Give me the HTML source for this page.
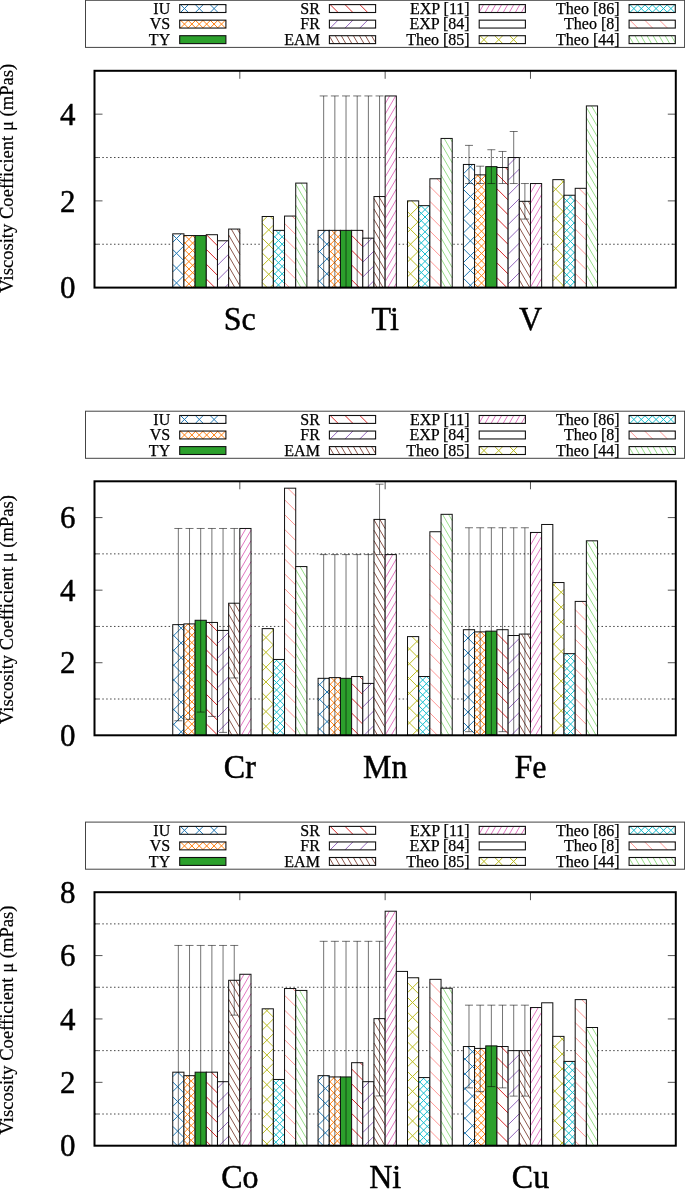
<!DOCTYPE html>
<html><head><meta charset="utf-8"><title>Viscosity Coefficient</title><style>
html,body{margin:0;padding:0;background:#fff;}
body{width:685px;height:1189px;overflow:hidden;}
svg{display:block;}
text{font-family:"Liberation Serif", "DejaVu Serif", serif;fill:#000;}
.lg{font-size:16px;text-anchor:end;stroke:#000;stroke-width:0.25px;}
.xl{font-size:32px;text-anchor:middle;stroke:#000;stroke-width:0.45px;}
.yl{font-size:31px;text-anchor:end;stroke:#000;stroke-width:0.45px;}
.yt{font-size:18.6px;text-anchor:middle;stroke:#000;stroke-width:0.2px;}
.grid{stroke:#444;stroke-width:1;stroke-dasharray:1.5 2.4;}
.bar{fill:none;stroke:#111;stroke-width:1;}
.sw{fill:none;stroke:#111;stroke-width:1.1;}
.h{fill:none;stroke-width:1;}
.eb{stroke:#000;stroke-opacity:0.55;stroke-width:1;fill:none;}
.tk{stroke:#555;stroke-width:1;}
.frame{fill:none;stroke:#000;stroke-width:2;}
</style></head><body>
<svg width="685" height="1189" viewBox="0 0 685 1189">
<defs></defs>
<rect width="685" height="1189" fill="#fff"/>
<line x1="94.5" y1="244.24" x2="675.8" y2="244.24" class="grid"/>
<line x1="94.5" y1="157.52" x2="675.8" y2="157.52" class="grid"/>
<rect x="172.75" y="233.83" width="11.18" height="53.77" fill="#fff"/><path d="M181.2 233.83L172.75 242.28M183.93 245.91L172.75 257.09M183.93 260.72L172.75 271.9M183.93 275.52L172.75 286.7M172.75 279.15L181.2 287.6M172.75 264.35L183.93 275.52M172.75 249.54L183.93 260.72M172.75 234.73L183.93 245.91" stroke="#1f77b4" class="h"/><rect x="172.75" y="233.83" width="11.18" height="53.77" class="bar"/>
<rect x="183.93" y="235.57" width="11.18" height="52.03" fill="#fff"/><path d="M185.31 235.57L183.93 236.95M192.71 235.57L183.93 244.35M195.11 240.57L183.93 251.75M195.11 247.98L183.93 259.16M195.11 255.38L183.93 266.56M195.11 262.78L183.93 273.96M195.11 270.19L183.93 281.37M195.11 277.59L185.1 287.6M195.11 284.99L192.5 287.6M183.93 286.22L185.31 287.6M183.93 278.82L192.71 287.6M183.93 271.42L195.11 282.59M183.93 264.01L195.11 275.19M183.93 256.61L195.11 267.79M183.93 249.21L195.11 260.38M183.93 241.8L195.11 252.98M185.1 235.57L195.11 245.58M192.5 235.57L195.11 238.17" stroke="#ff7f0e" class="h"/><rect x="183.93" y="235.57" width="11.18" height="52.03" class="bar"/>
<rect x="195.11" y="235.57" width="11.18" height="52.03" fill="#2ca02c"/><rect x="195.11" y="235.57" width="11.18" height="52.03" class="bar"/>
<rect x="206.29" y="234.7" width="11.18" height="52.9" fill="#fff"/><path d="M206.29 278.99L214.9 287.6M206.29 264.18L217.47 275.36M206.29 249.37L217.47 260.55M206.42 234.7L217.47 245.74" stroke="#d62728" class="h"/><rect x="206.29" y="234.7" width="11.18" height="52.9" class="bar"/>
<rect x="217.47" y="240.77" width="11.18" height="46.83" fill="#fff"/><path d="M227.23 240.77L217.47 250.54M228.65 254.17L217.47 265.35M228.65 268.97L217.47 280.15M228.65 283.78L224.83 287.6" stroke="#9467bd" class="h"/><rect x="217.47" y="240.77" width="11.18" height="46.83" class="bar"/>
<rect x="228.65" y="229.06" width="11.18" height="58.54" fill="#fff"/><path d="M228.65 287.3L228.82 287.6M228.65 276.83L234.86 287.6M228.65 266.36L239.82 285.73M228.65 255.89L239.82 275.26M228.65 245.42L239.82 264.79M228.65 234.95L239.82 254.32M231.29 229.06L239.82 243.85M237.33 229.06L239.82 233.38" stroke="#8c564b" class="h"/><rect x="228.65" y="229.06" width="11.18" height="58.54" class="bar"/>
<rect x="262.18" y="216.49" width="11.18" height="71.11" fill="#fff"/><path d="M267.23 216.49L262.18 221.54M273.36 225.17L262.18 236.35M273.36 239.98L262.18 251.15M273.36 254.78L262.18 265.96M273.36 269.59L262.18 280.77M273.36 284.4L270.16 287.6M262.18 282.55L267.23 287.6M262.18 267.74L273.36 278.92M262.18 252.94L273.36 264.11M262.18 238.13L273.36 249.31M262.18 223.32L273.36 234.5M270.16 216.49L273.36 219.69" stroke="#bcbd22" class="h"/><rect x="262.18" y="216.49" width="11.18" height="71.11" class="bar"/>
<rect x="273.36" y="230.36" width="11.18" height="57.24" fill="#fff"/><path d="M273.74 230.36L273.36 230.74M281.14 230.36L273.36 238.14M284.54 234.37L273.36 245.55M284.54 241.77L273.36 252.95M284.54 249.17L273.36 260.35M284.54 256.58L273.36 267.76M284.54 263.98L273.36 275.16M284.54 271.38L273.36 282.56M284.54 278.79L275.73 287.6M284.54 286.19L283.13 287.6M273.36 287.23L273.74 287.6M273.36 279.82L281.14 287.6M273.36 272.42L284.54 283.6M273.36 265.02L284.54 276.19M273.36 257.61L284.54 268.79M273.36 250.21L284.54 261.39M273.36 242.81L284.54 253.98M273.36 235.4L284.54 246.58M275.73 230.36L284.54 239.18M283.13 230.36L284.54 231.77" stroke="#17becf" class="h"/><rect x="273.36" y="230.36" width="11.18" height="57.24" class="bar"/>
<rect x="284.54" y="216.06" width="11.18" height="71.54" fill="#fff"/><path d="M284.54 282.63L289.51 287.6M284.54 267.83L295.72 279.01M284.54 253.02L295.72 264.2M284.54 238.21L295.72 249.39M284.54 223.41L295.72 234.59M292 216.06L295.72 219.78" stroke="#ff9896" class="h"/><rect x="284.54" y="216.06" width="11.18" height="71.54" class="bar"/>
<rect x="295.72" y="183.1" width="11.18" height="104.5" fill="#fff"/><path d="M295.72 278.41L301.02 287.6M295.72 267.94L306.9 287.31M295.72 257.47L306.9 276.84M295.72 247L306.9 266.37M295.72 236.53L306.9 255.9M295.72 226.06L306.9 245.43M295.72 215.59L306.9 234.96M295.72 205.12L306.9 224.49M295.72 194.65L306.9 214.02M295.72 184.18L306.9 203.55M301.14 183.1L306.9 193.08" stroke="#98df8a" class="h"/><rect x="295.72" y="183.1" width="11.18" height="104.5" class="bar"/>
<text transform="translate(239.82 330.2) scale(1 1.04)" class="xl">Sc</text>
<line x1="239.82" y1="70.8" x2="239.82" y2="78.8" class="tk"/>
<line x1="239.82" y1="287.6" x2="239.82" y2="279.6" class="tk"/>
<rect x="318.08" y="230.36" width="11.18" height="57.24" fill="#fff"/><path d="M325.85 230.36L318.08 238.14M329.26 241.77L318.08 252.95M329.26 256.58L318.08 267.76M329.26 271.38L318.08 282.56M329.26 286.19L327.85 287.6M318.08 279.82L325.85 287.6M318.08 265.02L329.26 276.19M318.08 250.21L329.26 261.39M318.08 235.4L329.26 246.58M327.85 230.36L329.26 231.77" stroke="#1f77b4" class="h"/><rect x="318.08" y="230.36" width="11.18" height="57.24" class="bar"/>
<path d="M323.67 95.95V287.6M319.67 95.95H327.67" class="eb"/>
<rect x="329.26" y="230.36" width="11.18" height="57.24" fill="#fff"/><path d="M329.63 230.36L329.26 230.74M337.03 230.36L329.26 238.14M340.43 234.37L329.26 245.55M340.43 241.77L329.26 252.95M340.43 249.17L329.26 260.35M340.43 256.58L329.26 267.76M340.43 263.98L329.26 275.16M340.43 271.38L329.26 282.56M340.43 278.79L331.62 287.6M340.43 286.19L339.03 287.6M329.26 287.23L329.63 287.6M329.26 279.82L337.03 287.6M329.26 272.42L340.43 283.6M329.26 265.02L340.43 276.19M329.26 257.61L340.43 268.79M329.26 250.21L340.43 261.39M329.26 242.81L340.43 253.98M329.26 235.4L340.43 246.58M331.62 230.36L340.43 239.18M339.03 230.36L340.43 231.77" stroke="#ff7f0e" class="h"/><rect x="329.26" y="230.36" width="11.18" height="57.24" class="bar"/>
<path d="M334.85 95.95V287.6M330.85 95.95H338.85" class="eb"/>
<rect x="340.43" y="230.36" width="11.18" height="57.24" fill="#2ca02c"/><rect x="340.43" y="230.36" width="11.18" height="57.24" class="bar"/>
<path d="M346.02 95.95V287.6M342.02 95.95H350.02" class="eb"/>
<rect x="351.61" y="230.36" width="11.18" height="57.24" fill="#fff"/><path d="M351.61 279.82L359.39 287.6M351.61 265.02L362.79 276.19M351.61 250.21L362.79 261.39M351.61 235.4L362.79 246.58M361.38 230.36L362.79 231.77" stroke="#d62728" class="h"/><rect x="351.61" y="230.36" width="11.18" height="57.24" class="bar"/>
<path d="M357.2 95.95V287.6M353.2 95.95H361.2" class="eb"/>
<rect x="362.79" y="238.17" width="11.18" height="49.43" fill="#fff"/><path d="M372.07 238.17L362.79 247.45M373.97 251.07L362.79 262.25M373.97 265.88L362.79 277.06M373.97 280.69L367.06 287.6" stroke="#9467bd" class="h"/><rect x="362.79" y="238.17" width="11.18" height="49.43" class="bar"/>
<path d="M368.38 95.95V287.6M364.38 95.95H372.38" class="eb"/>
<rect x="373.97" y="196.54" width="11.18" height="91.06" fill="#fff"/><path d="M373.97 282.25L377.06 287.6M373.97 271.78L383.1 287.6M373.97 261.31L385.15 280.67M373.97 250.84L385.15 270.2M373.97 240.37L385.15 259.73M373.97 229.9L385.15 249.26M373.97 219.43L385.15 238.79M373.97 208.96L385.15 228.32M373.97 198.49L385.15 217.85M378.89 196.54L385.15 207.38M384.94 196.54L385.15 196.91" stroke="#8c564b" class="h"/><rect x="373.97" y="196.54" width="11.18" height="91.06" class="bar"/>
<path d="M379.56 95.95V287.6M375.56 95.95H383.56" class="eb"/>
<rect x="385.15" y="95.95" width="11.18" height="191.65" fill="#fff"/><path d="M389.63 95.95L385.15 103.71M395.67 95.95L385.15 114.18M396.33 105.29L385.15 124.65M396.33 115.76L385.15 135.12M396.33 126.23L385.15 145.59M396.33 136.7L385.15 156.06M396.33 147.17L385.15 166.53M396.33 157.64L385.15 177M396.33 168.11L385.15 187.47M396.33 178.58L385.15 197.94M396.33 189.05L385.15 208.41M396.33 199.52L385.15 218.88M396.33 209.99L385.15 229.35M396.33 220.46L385.15 239.82M396.33 230.93L385.15 250.29M396.33 241.4L385.15 260.76M396.33 251.87L385.15 271.23M396.33 262.34L385.15 281.7M396.33 272.81L387.79 287.6M396.33 283.28L393.83 287.6" stroke="#e377c2" class="h"/><rect x="385.15" y="95.95" width="11.18" height="191.65" class="bar"/>
<rect x="407.51" y="200.88" width="11.18" height="86.72" fill="#fff"/><path d="M409.44 200.88L407.51 202.81M418.69 206.44L407.51 217.62M418.69 221.24L407.51 232.42M418.69 236.05L407.51 247.23M418.69 250.86L407.51 262.04M418.69 265.66L407.51 276.84M418.69 280.47L411.56 287.6M407.51 285.67L409.44 287.6M407.51 270.86L418.69 282.04M407.51 256.06L418.69 267.24M407.51 241.25L418.69 252.43M407.51 226.44L418.69 237.62M407.51 211.64L418.69 222.82M411.56 200.88L418.69 208.01" stroke="#bcbd22" class="h"/><rect x="407.51" y="200.88" width="11.18" height="86.72" class="bar"/>
<rect x="418.69" y="205.65" width="11.18" height="81.95" fill="#fff"/><path d="M421.57 205.65L418.69 208.54M428.98 205.65L418.69 215.94M429.87 212.16L418.69 223.34M429.87 219.57L418.69 230.75M429.87 226.97L418.69 238.15M429.87 234.37L418.69 245.55M429.87 241.78L418.69 252.96M429.87 249.18L418.69 260.36M429.87 256.59L418.69 267.76M429.87 263.99L418.69 275.17M429.87 271.39L418.69 282.57M429.87 278.8L421.06 287.6M429.87 286.2L428.46 287.6M418.69 284.71L421.57 287.6M418.69 277.31L428.98 287.6M418.69 269.91L429.87 281.08M418.69 262.5L429.87 273.68M418.69 255.1L429.87 266.28M418.69 247.7L429.87 258.87M418.69 240.29L429.87 251.47M418.69 232.89L429.87 244.07M418.69 225.49L429.87 236.66M418.69 218.08L429.87 229.26M418.69 210.68L429.87 221.86M421.06 205.65L429.87 214.45M428.46 205.65L429.87 207.05" stroke="#17becf" class="h"/><rect x="418.69" y="205.65" width="11.18" height="81.95" class="bar"/>
<rect x="429.87" y="178.77" width="11.18" height="108.83" fill="#fff"/><path d="M429.87 275.34L441.04 286.52M429.87 260.54L441.04 271.71M429.87 245.73L441.04 256.91M429.87 230.92L441.04 242.1M429.87 216.11L441.04 227.29M429.87 201.31L441.04 212.49M429.87 186.5L441.04 197.68M436.94 178.77L441.04 182.87" stroke="#ff9896" class="h"/><rect x="429.87" y="178.77" width="11.18" height="108.83" class="bar"/>
<rect x="441.04" y="138.44" width="11.18" height="149.16" fill="#fff"/><path d="M441.04 279.63L445.65 287.6M441.04 269.16L451.69 287.6M441.04 258.69L452.22 278.05M441.04 248.22L452.22 267.58M441.04 237.75L452.22 257.11M441.04 227.28L452.22 246.64M441.04 216.81L452.22 236.17M441.04 206.34L452.22 225.7M441.04 195.87L452.22 215.23M441.04 185.4L452.22 204.76M441.04 174.93L452.22 194.29M441.04 164.46L452.22 183.82M441.04 153.99L452.22 173.35M441.04 143.52L452.22 162.88M444.16 138.44L452.22 152.41M450.2 138.44L452.22 141.94" stroke="#98df8a" class="h"/><rect x="441.04" y="138.44" width="11.18" height="149.16" class="bar"/>
<text transform="translate(385.15 330.2) scale(1 1.04)" class="xl">Ti</text>
<line x1="385.15" y1="70.8" x2="385.15" y2="78.8" class="tk"/>
<line x1="385.15" y1="287.6" x2="385.15" y2="279.6" class="tk"/>
<rect x="463.4" y="164.46" width="11.18" height="123.14" fill="#fff"/><path d="M472.74 164.46L463.4 173.8M474.58 177.43L463.4 188.61M474.58 192.23L463.4 203.41M474.58 207.04L463.4 218.22M474.58 221.85L463.4 233.03M474.58 236.65L463.4 247.83M474.58 251.46L463.4 262.64M474.58 266.27L463.4 277.45M474.58 281.07L468.06 287.6M463.4 278.26L472.74 287.6M463.4 263.45L474.58 274.63M463.4 248.64L474.58 259.82M463.4 233.84L474.58 245.02M463.4 219.03L474.58 230.21M463.4 204.22L474.58 215.4M463.4 189.42L474.58 200.6M463.4 174.61L474.58 185.79M468.06 164.46L474.58 170.98" stroke="#1f77b4" class="h"/><rect x="463.4" y="164.46" width="11.18" height="123.14" class="bar"/>
<path d="M468.99 145.38V183.54M464.99 145.38H472.99M464.99 183.54H472.99" class="eb"/>
<rect x="474.58" y="174.86" width="11.18" height="112.74" fill="#fff"/><path d="M478.64 174.86L474.58 178.92M485.76 175.15L474.58 186.33M485.76 182.55L474.58 193.73M485.76 189.96L474.58 201.13M485.76 197.36L474.58 208.54M485.76 204.76L474.58 215.94M485.76 212.17L474.58 223.34M485.76 219.57L474.58 230.75M485.76 226.97L474.58 238.15M485.76 234.38L474.58 245.55M485.76 241.78L474.58 252.96M485.76 249.18L474.58 260.36M485.76 256.59L474.58 267.77M485.76 263.99L474.58 275.17M485.76 271.39L474.58 282.57M485.76 278.8L476.96 287.6M485.76 286.2L484.36 287.6M474.58 283.54L478.64 287.6M474.58 276.14L485.76 287.32M474.58 268.73L485.76 279.91M474.58 261.33L485.76 272.51M474.58 253.93L485.76 265.1M474.58 246.52L485.76 257.7M474.58 239.12L485.76 250.3M474.58 231.72L485.76 242.89M474.58 224.31L485.76 235.49M474.58 216.91L485.76 228.09M474.58 209.51L485.76 220.68M474.58 202.1L485.76 213.28M474.58 194.7L485.76 205.88M474.58 187.3L485.76 198.47M474.58 179.89L485.76 191.07M476.96 174.86L485.76 183.67M484.36 174.86L485.76 176.26" stroke="#ff7f0e" class="h"/><rect x="474.58" y="174.86" width="11.18" height="112.74" class="bar"/>
<path d="M480.17 166.19V183.54M476.17 166.19H484.17M476.17 183.54H484.17" class="eb"/>
<rect x="485.76" y="166.63" width="11.18" height="120.97" fill="#2ca02c"/><rect x="485.76" y="166.63" width="11.18" height="120.97" class="bar"/>
<path d="M491.35 149.72V183.54M487.35 149.72H495.35M487.35 183.54H495.35" class="eb"/>
<rect x="496.94" y="167.49" width="11.18" height="120.11" fill="#fff"/><path d="M496.94 277.64L506.9 287.6M496.94 262.83L508.12 274.01M496.94 248.03L508.12 259.2M496.94 233.22L508.12 244.4M496.94 218.41L508.12 229.59M496.94 203.6L508.12 214.78M496.94 188.8L508.12 199.98M496.94 173.99L508.12 185.17M505.25 167.49L508.12 170.36" stroke="#d62728" class="h"/><rect x="496.94" y="167.49" width="11.18" height="120.11" class="bar"/>
<path d="M502.53 151.45V183.54M498.53 151.45H506.53M498.53 183.54H506.53" class="eb"/>
<rect x="508.12" y="157.52" width="11.18" height="130.08" fill="#fff"/><path d="M516.04 157.52L508.12 165.44M519.3 169.07L508.12 180.25M519.3 183.88L508.12 195.06M519.3 198.69L508.12 209.86M519.3 213.49L508.12 224.67M519.3 228.3L508.12 239.48M519.3 243.11L508.12 254.28M519.3 257.91L508.12 269.09M519.3 272.72L508.12 283.9M519.3 287.53L519.22 287.6" stroke="#9467bd" class="h"/><rect x="508.12" y="157.52" width="11.18" height="130.08" class="bar"/>
<path d="M513.71 131.5V183.54M509.71 131.5H517.71M509.71 183.54H517.71" class="eb"/>
<rect x="519.3" y="201.31" width="11.18" height="86.29" fill="#fff"/><path d="M519.3 279.9L523.74 287.6M519.3 269.43L529.78 287.6M519.3 258.96L530.47 278.33M519.3 248.49L530.47 267.86M519.3 238.02L530.47 257.39M519.3 227.55L530.47 246.92M519.3 217.08L530.47 236.45M519.3 206.61L530.47 225.98M522.28 201.31L530.47 215.51M528.33 201.31L530.47 205.04" stroke="#8c564b" class="h"/><rect x="519.3" y="201.31" width="11.18" height="86.29" class="bar"/>
<path d="M524.89 183.54V219.09M520.89 183.54H528.89M520.89 219.09H528.89" class="eb"/>
<rect x="530.47" y="183.54" width="11.18" height="104.06" fill="#fff"/><path d="M535.9 183.54L530.47 192.94M541.65 184.04L530.47 203.41M541.65 194.51L530.47 213.88M541.65 204.98L530.47 224.35M541.65 215.45L530.47 234.82M541.65 225.92L530.47 245.29M541.65 236.39L530.47 255.76M541.65 246.86L530.47 266.23M541.65 257.33L530.47 276.7M541.65 267.8L530.47 287.17M541.65 278.27L536.27 287.6" stroke="#e377c2" class="h"/><rect x="530.47" y="183.54" width="11.18" height="104.06" class="bar"/>
<rect x="552.83" y="179.63" width="11.18" height="107.97" fill="#fff"/><path d="M564.01 180.89L552.83 192.07M564.01 195.7L552.83 206.87M564.01 210.5L552.83 221.68M564.01 225.31L552.83 236.49M564.01 240.12L552.83 251.3M564.01 254.92L552.83 266.1M564.01 269.73L552.83 280.91M564.01 284.54L560.95 287.6M552.83 275.17L564.01 286.34M552.83 260.36L564.01 271.54M552.83 245.55L564.01 256.73M552.83 230.75L564.01 241.92M552.83 215.94L564.01 227.12M552.83 201.13L564.01 212.31M552.83 186.32L564.01 197.5M560.95 179.63L564.01 182.7" stroke="#bcbd22" class="h"/><rect x="552.83" y="179.63" width="11.18" height="107.97" class="bar"/>
<rect x="564.01" y="195.24" width="11.18" height="92.36" fill="#fff"/><path d="M564.8 195.24L564.01 196.04M572.21 195.24L564.01 203.44M575.19 199.66L564.01 210.84M575.19 207.07L564.01 218.25M575.19 214.47L564.01 225.65M575.19 221.87L564.01 233.05M575.19 229.28L564.01 240.46M575.19 236.68L564.01 247.86M575.19 244.08L564.01 255.26M575.19 251.49L564.01 262.67M575.19 258.89L564.01 270.07M575.19 266.29L564.01 277.47M575.19 273.7L564.01 284.88M575.19 281.1L568.69 287.6M564.01 286.81L564.8 287.6M564.01 279.4L572.21 287.6M564.01 272L575.19 283.18M564.01 264.6L575.19 275.78M564.01 257.19L575.19 268.37M564.01 249.79L575.19 260.97M564.01 242.39L575.19 253.57M564.01 234.98L575.19 246.16M564.01 227.58L575.19 238.76M564.01 220.18L575.19 231.36M564.01 212.77L575.19 223.95M564.01 205.37L575.19 216.55M564.01 197.97L575.19 209.15M568.69 195.24L575.19 201.74" stroke="#17becf" class="h"/><rect x="564.01" y="195.24" width="11.18" height="92.36" class="bar"/>
<rect x="575.19" y="188.31" width="11.18" height="99.29" fill="#fff"/><path d="M575.19 273.41L586.37 284.58M575.19 258.6L586.37 269.78M575.19 243.79L586.37 254.97M575.19 228.98L586.37 240.16M575.19 214.18L586.37 225.36M575.19 199.37L586.37 210.55M578.93 188.31L586.37 195.74" stroke="#ff9896" class="h"/><rect x="575.19" y="188.31" width="11.18" height="99.29" class="bar"/>
<rect x="586.37" y="105.92" width="11.18" height="181.68" fill="#fff"/><path d="M586.37 285.34L587.67 287.6M586.37 274.87L593.72 287.6M586.37 264.4L597.55 283.76M586.37 253.93L597.55 273.29M586.37 243.46L597.55 262.82M586.37 232.99L597.55 252.35M586.37 222.52L597.55 241.88M586.37 212.05L597.55 231.41M586.37 201.58L597.55 220.94M586.37 191.11L597.55 210.47M586.37 180.64L597.55 200M586.37 170.17L597.55 189.53M586.37 159.7L597.55 179.06M586.37 149.23L597.55 168.59M586.37 138.76L597.55 158.12M586.37 128.29L597.55 147.65M586.37 117.82L597.55 137.18M586.37 107.35L597.55 126.71M591.59 105.92L597.55 116.24" stroke="#98df8a" class="h"/><rect x="586.37" y="105.92" width="11.18" height="181.68" class="bar"/>
<text transform="translate(530.47 330.2) scale(1 1.04)" class="xl">V</text>
<line x1="530.47" y1="70.8" x2="530.47" y2="78.8" class="tk"/>
<line x1="530.47" y1="287.6" x2="530.47" y2="279.6" class="tk"/>
<text transform="translate(75.6 298.3) scale(1 1.04)" class="yl">0</text>
<line x1="94.5" y1="244.24" x2="98.5" y2="244.24" class="tk"/>
<line x1="675.8" y1="244.24" x2="671.8" y2="244.24" class="tk"/>
<line x1="94.5" y1="200.88" x2="102.5" y2="200.88" class="tk"/>
<line x1="675.8" y1="200.88" x2="667.8" y2="200.88" class="tk"/>
<text transform="translate(75.6 211.58) scale(1 1.04)" class="yl">2</text>
<line x1="94.5" y1="157.52" x2="98.5" y2="157.52" class="tk"/>
<line x1="675.8" y1="157.52" x2="671.8" y2="157.52" class="tk"/>
<line x1="94.5" y1="114.16" x2="102.5" y2="114.16" class="tk"/>
<line x1="675.8" y1="114.16" x2="667.8" y2="114.16" class="tk"/>
<text transform="translate(75.6 124.86) scale(1 1.04)" class="yl">4</text>
<rect x="94.5" y="70.8" width="581.3" height="216.8" class="frame"/>
<text transform="translate(13.2 178.3) rotate(-90)" class="yt">Viscosity Coefficient μ (mPas)</text>
<rect x="85.5" y="0.3" width="599.1" height="47.1" fill="#fff" stroke="#444" stroke-width="1"/>
<rect x="179.7" y="4.6" width="46.2" height="7.9" fill="#fff"/><path d="M188.41 4.6L180.51 12.5M203.22 4.6L195.32 12.5M218.03 4.6L210.13 12.5M225.9 11.53L224.93 12.5M180.51 4.6L188.41 12.5M195.32 4.6L203.22 12.5M210.13 4.6L218.03 12.5M224.93 4.6L225.9 5.57" stroke="#1f77b4" class="h"/><rect x="179.7" y="4.6" width="46.2" height="7.9" class="sw"/>
<text x="170.2" y="13.9" class="lg">IU</text>
<rect x="179.7" y="20.15" width="46.2" height="7.9" fill="#fff"/><path d="M181.01 20.15L179.7 21.46M188.41 20.15L180.51 28.05M195.82 20.15L187.92 28.05M203.22 20.15L195.32 28.05M210.62 20.15L202.72 28.05M218.03 20.15L210.13 28.05M225.43 20.15L217.53 28.05M225.9 27.08L224.93 28.05M179.7 26.74L181.01 28.05M180.51 20.15L188.41 28.05M187.92 20.15L195.82 28.05M195.32 20.15L203.22 28.05M202.72 20.15L210.62 28.05M210.13 20.15L218.03 28.05M217.53 20.15L225.43 28.05M224.93 20.15L225.9 21.12" stroke="#ff7f0e" class="h"/><rect x="179.7" y="20.15" width="46.2" height="7.9" class="sw"/>
<text x="170.2" y="29.45" class="lg">VS</text>
<rect x="179.7" y="35.7" width="46.2" height="7.9" fill="#2ca02c"/><rect x="179.7" y="35.7" width="46.2" height="7.9" class="sw"/>
<text x="170.2" y="45" class="lg">TY</text>
<rect x="329.4" y="4.6" width="46.2" height="7.9" fill="#fff"/><path d="M330.21 4.6L338.11 12.5M345.02 4.6L352.92 12.5M359.83 4.6L367.73 12.5M374.63 4.6L375.6 5.57" stroke="#d62728" class="h"/><rect x="329.4" y="4.6" width="46.2" height="7.9" class="sw"/>
<text x="319.9" y="13.9" class="lg">SR</text>
<rect x="329.4" y="20.15" width="46.2" height="7.9" fill="#fff"/><path d="M338.11 20.15L330.21 28.05M352.92 20.15L345.02 28.05M367.73 20.15L359.83 28.05M375.6 27.08L374.63 28.05" stroke="#9467bd" class="h"/><rect x="329.4" y="20.15" width="46.2" height="7.9" class="sw"/>
<text x="319.9" y="29.45" class="lg">FR</text>
<rect x="329.4" y="35.7" width="46.2" height="7.9" fill="#fff"/><path d="M329.4 36.04L333.76 43.6M335.25 35.7L339.81 43.6M341.29 35.7L345.85 43.6M347.34 35.7L351.9 43.6M353.38 35.7L357.94 43.6M359.43 35.7L363.99 43.6M365.47 35.7L370.03 43.6M371.52 35.7L375.6 42.77" stroke="#8c564b" class="h"/><rect x="329.4" y="35.7" width="46.2" height="7.9" class="sw"/>
<text x="319.9" y="45" class="lg">EAM</text>
<rect x="479.2" y="4.6" width="46.2" height="7.9" fill="#fff"/><path d="M483.56 4.6L479.2 12.16M489.61 4.6L485.05 12.5M495.65 4.6L491.09 12.5M501.7 4.6L497.14 12.5M507.74 4.6L503.18 12.5M513.79 4.6L509.23 12.5M519.83 4.6L515.27 12.5M525.4 5.43L521.32 12.5" stroke="#e377c2" class="h"/><rect x="479.2" y="4.6" width="46.2" height="7.9" class="sw"/>
<text x="469.7" y="13.9" class="lg">EXP [11]</text>
<rect x="479.2" y="20.15" width="46.2" height="7.9" fill="#fff"/><rect x="479.2" y="20.15" width="46.2" height="7.9" class="sw"/>
<text x="469.7" y="29.45" class="lg">EXP [84]</text>
<rect x="479.2" y="35.7" width="46.2" height="7.9" fill="#fff"/><path d="M487.91 35.7L480.01 43.6M502.72 35.7L494.82 43.6M517.53 35.7L509.63 43.6M525.4 42.63L524.43 43.6M480.01 35.7L487.91 43.6M494.82 35.7L502.72 43.6M509.63 35.7L517.53 43.6M524.43 35.7L525.4 36.67" stroke="#bcbd22" class="h"/><rect x="479.2" y="35.7" width="46.2" height="7.9" class="sw"/>
<text x="469.7" y="45" class="lg">Theo [85]</text>
<rect x="629.1" y="4.6" width="46.2" height="7.9" fill="#fff"/><path d="M630.41 4.6L629.1 5.91M637.81 4.6L629.91 12.5M645.22 4.6L637.32 12.5M652.62 4.6L644.72 12.5M660.02 4.6L652.12 12.5M667.43 4.6L659.53 12.5M674.83 4.6L666.93 12.5M675.3 11.53L674.33 12.5M629.1 11.19L630.41 12.5M629.91 4.6L637.81 12.5M637.32 4.6L645.22 12.5M644.72 4.6L652.62 12.5M652.12 4.6L660.02 12.5M659.53 4.6L667.43 12.5M666.93 4.6L674.83 12.5M674.33 4.6L675.3 5.57" stroke="#17becf" class="h"/><rect x="629.1" y="4.6" width="46.2" height="7.9" class="sw"/>
<text x="619.6" y="13.9" class="lg">Theo [86]</text>
<rect x="629.1" y="20.15" width="46.2" height="7.9" fill="#fff"/><path d="M629.91 20.15L637.81 28.05M644.72 20.15L652.62 28.05M659.53 20.15L667.43 28.05M674.33 20.15L675.3 21.12" stroke="#ff9896" class="h"/><rect x="629.1" y="20.15" width="46.2" height="7.9" class="sw"/>
<text x="619.6" y="29.45" class="lg">Theo [8]</text>
<rect x="629.1" y="35.7" width="46.2" height="7.9" fill="#fff"/><path d="M629.1 36.04L633.46 43.6M634.95 35.7L639.51 43.6M640.99 35.7L645.55 43.6M647.04 35.7L651.6 43.6M653.08 35.7L657.64 43.6M659.13 35.7L663.69 43.6M665.17 35.7L669.73 43.6M671.22 35.7L675.3 42.77" stroke="#98df8a" class="h"/><rect x="629.1" y="35.7" width="46.2" height="7.9" class="sw"/>
<text x="619.6" y="45" class="lg">Theo [44]</text>
<line x1="94.5" y1="699.01" x2="675.8" y2="699.01" class="grid"/>
<line x1="94.5" y1="626.44" x2="675.8" y2="626.44" class="grid"/>
<line x1="94.5" y1="553.87" x2="675.8" y2="553.87" class="grid"/>
<rect x="172.75" y="624.63" width="11.18" height="110.67" fill="#fff"/><path d="M183.93 625.33L172.75 636.51M183.93 640.14L172.75 651.32M183.93 654.95L172.75 666.13M183.93 669.75L172.75 680.93M183.93 684.56L172.75 695.74M183.93 699.37L172.75 710.55M183.93 714.17L172.75 725.35M183.93 728.98L177.61 735.3M172.75 723.42L183.93 734.59M172.75 708.61L183.93 719.79M172.75 693.8L183.93 704.98M172.75 679L183.93 690.17M172.75 664.19L183.93 675.37M172.75 649.38L183.93 660.56M172.75 634.58L183.93 645.75M177.61 624.63L183.93 630.95" stroke="#1f77b4" class="h"/><rect x="172.75" y="624.63" width="11.18" height="110.67" class="bar"/>
<path d="M178.34 528.47V720.79M174.34 528.47H182.34M174.34 720.79H182.34" class="eb"/>
<rect x="183.93" y="623.9" width="11.18" height="111.4" fill="#fff"/><path d="M188.26 623.9L183.93 628.24M195.11 624.46L183.93 635.64M195.11 631.86L183.93 643.04M195.11 639.27L183.93 650.45M195.11 646.67L183.93 657.85M195.11 654.07L183.93 665.25M195.11 661.48L183.93 672.66M195.11 668.88L183.93 680.06M195.11 676.28L183.93 687.46M195.11 683.69L183.93 694.87M195.11 691.09L183.93 702.27M195.11 698.49L183.93 709.67M195.11 705.9L183.93 717.08M195.11 713.3L183.93 724.48M195.11 720.7L183.93 731.88M195.11 728.11L187.92 735.3M183.93 730.97L188.26 735.3M183.93 723.56L195.11 734.74M183.93 716.16L195.11 727.34M183.93 708.76L195.11 719.94M183.93 701.35L195.11 712.53M183.93 693.95L195.11 705.13M183.93 686.55L195.11 697.73M183.93 679.14L195.11 690.32M183.93 671.74L195.11 682.92M183.93 664.34L195.11 675.52M183.93 656.93L195.11 668.11M183.93 649.53L195.11 660.71M183.93 642.13L195.11 653.31M183.93 634.72L195.11 645.9M183.93 627.32L195.11 638.5M187.92 623.9L195.11 631.09" stroke="#ff7f0e" class="h"/><rect x="183.93" y="623.9" width="11.18" height="111.4" class="bar"/>
<path d="M189.52 528.47V719.33M185.52 528.47H193.52M185.52 719.33H193.52" class="eb"/>
<rect x="195.11" y="620.27" width="11.18" height="115.03" fill="#2ca02c"/><rect x="195.11" y="620.27" width="11.18" height="115.03" class="bar"/>
<path d="M200.7 528.47V712.08M196.7 528.47H204.7M196.7 712.08H204.7" class="eb"/>
<rect x="206.29" y="622.45" width="11.18" height="112.85" fill="#fff"/><path d="M206.29 723.86L217.47 735.04M206.29 709.05L217.47 720.23M206.29 694.25L217.47 705.42M206.29 679.44L217.47 690.62M206.29 664.63L217.47 675.81M206.29 649.83L217.47 661M206.29 635.02L217.47 646.2M208.53 622.45L217.47 631.39" stroke="#d62728" class="h"/><rect x="206.29" y="622.45" width="11.18" height="112.85" class="bar"/>
<path d="M211.88 528.47V716.43M207.88 528.47H215.88M207.88 716.43H215.88" class="eb"/>
<rect x="217.47" y="630.43" width="11.18" height="104.87" fill="#fff"/><path d="M228.65 632.32L217.47 643.5M228.65 647.13L217.47 658.31M228.65 661.93L217.47 673.11M228.65 676.74L217.47 687.92M228.65 691.55L217.47 702.73M228.65 706.35L217.47 717.53M228.65 721.16L217.47 732.34" stroke="#9467bd" class="h"/><rect x="217.47" y="630.43" width="11.18" height="104.87" class="bar"/>
<path d="M223.06 528.47V732.4M219.06 528.47H227.06M219.06 732.4H227.06" class="eb"/>
<rect x="228.65" y="603.22" width="11.18" height="132.08" fill="#fff"/><path d="M228.65 729.31L232.1 735.3M228.65 718.84L238.15 735.3M228.65 708.37L239.82 727.73M228.65 697.9L239.82 717.26M228.65 687.43L239.82 706.79M228.65 676.96L239.82 696.32M228.65 666.49L239.82 685.85M228.65 656.02L239.82 675.38M228.65 645.55L239.82 664.91M228.65 635.08L239.82 654.44M228.65 624.61L239.82 643.97M228.65 614.14L239.82 633.5M228.65 603.67L239.82 623.03M234.43 603.22L239.82 612.56" stroke="#8c564b" class="h"/><rect x="228.65" y="603.22" width="11.18" height="132.08" class="bar"/>
<path d="M234.24 528.47V677.97M230.24 528.47H238.24M230.24 677.97H238.24" class="eb"/>
<rect x="239.82" y="528.47" width="11.18" height="206.83" fill="#fff"/><path d="M239.94 528.47L239.82 528.67M245.98 528.47L239.82 539.14M251 530.24L239.82 549.61M251 540.71L239.82 560.08M251 551.18L239.82 570.55M251 561.65L239.82 581.02M251 572.12L239.82 591.49M251 582.59L239.82 601.96M251 593.06L239.82 612.43M251 603.53L239.82 622.9M251 614L239.82 633.37M251 624.47L239.82 643.84M251 634.94L239.82 654.31M251 645.41L239.82 664.78M251 655.88L239.82 675.25M251 666.35L239.82 685.72M251 676.82L239.82 696.19M251 687.29L239.82 706.66M251 697.76L239.82 717.13M251 708.23L239.82 727.6M251 718.7L241.42 735.3M251 729.17L247.47 735.3" stroke="#e377c2" class="h"/><rect x="239.82" y="528.47" width="11.18" height="206.83" class="bar"/>
<rect x="262.18" y="628.62" width="11.18" height="106.68" fill="#fff"/><path d="M273.36 630.14L262.18 641.32M273.36 644.94L262.18 656.12M273.36 659.75L262.18 670.93M273.36 674.56L262.18 685.74M273.36 689.36L262.18 700.54M273.36 704.17L262.18 715.35M273.36 718.98L262.18 730.16M273.36 733.78L271.85 735.3M262.18 722.6L273.36 733.78M262.18 707.8L273.36 718.98M262.18 692.99L273.36 704.17M262.18 678.18L273.36 689.36M262.18 663.38L273.36 674.56M262.18 648.57L273.36 659.75M262.18 633.76L273.36 644.94M271.85 628.62L273.36 630.14" stroke="#bcbd22" class="h"/><rect x="262.18" y="628.62" width="11.18" height="106.68" class="bar"/>
<rect x="273.36" y="659.46" width="11.18" height="75.84" fill="#fff"/><path d="M277.47 659.46L273.36 663.57M284.54 659.8L273.36 670.98M284.54 667.2L273.36 678.38M284.54 674.6L273.36 685.78M284.54 682.01L273.36 693.19M284.54 689.41L273.36 700.59M284.54 696.81L273.36 707.99M284.54 704.22L273.36 715.4M284.54 711.62L273.36 722.8M284.54 719.03L273.36 730.2M284.54 726.43L275.67 735.3M284.54 733.83L283.07 735.3M273.36 731.19L277.47 735.3M273.36 723.79L284.54 734.97M273.36 716.38L284.54 727.56M273.36 708.98L284.54 720.16M273.36 701.58L284.54 712.75M273.36 694.17L284.54 705.35M273.36 686.77L284.54 697.95M273.36 679.37L284.54 690.54M273.36 671.96L284.54 683.14M273.36 664.56L284.54 675.74M275.67 659.46L284.54 668.33M283.07 659.46L284.54 660.93" stroke="#17becf" class="h"/><rect x="273.36" y="659.46" width="11.18" height="75.84" class="bar"/>
<rect x="284.54" y="488.19" width="11.18" height="247.11" fill="#fff"/><path d="M284.54 721.84L295.72 733.02M284.54 707.03L295.72 718.21M284.54 692.23L295.72 703.4M284.54 677.42L295.72 688.6M284.54 662.61L295.72 673.79M284.54 647.81L295.72 658.98M284.54 633L295.72 644.18M284.54 618.19L295.72 629.37M284.54 603.38L295.72 614.56M284.54 588.58L295.72 599.76M284.54 573.77L295.72 584.95M284.54 558.96L295.72 570.14M284.54 544.16L295.72 555.34M284.54 529.35L295.72 540.53M284.54 514.54L295.72 525.72M284.54 499.74L295.72 510.92M287.8 488.19L295.72 496.11" stroke="#ff9896" class="h"/><rect x="284.54" y="488.19" width="11.18" height="247.11" class="bar"/>
<rect x="295.72" y="566.57" width="11.18" height="168.73" fill="#fff"/><path d="M295.72 726.59L300.75 735.3M295.72 716.12L306.79 735.3M295.72 705.65L306.9 725.02M295.72 695.18L306.9 714.55M295.72 684.71L306.9 704.08M295.72 674.24L306.9 693.61M295.72 663.77L306.9 683.14M295.72 653.3L306.9 672.67M295.72 642.83L306.9 662.2M295.72 632.36L306.9 651.73M295.72 621.89L306.9 641.26M295.72 611.42L306.9 630.79M295.72 600.95L306.9 620.32M295.72 590.48L306.9 609.85M295.72 580.01L306.9 599.38M295.72 569.54L306.9 588.91M300.05 566.57L306.9 578.44M306.09 566.57L306.9 567.97" stroke="#98df8a" class="h"/><rect x="295.72" y="566.57" width="11.18" height="168.73" class="bar"/>
<text transform="translate(239.82 777.9) scale(1 1.04)" class="xl">Cr</text>
<line x1="239.82" y1="481.3" x2="239.82" y2="489.3" class="tk"/>
<line x1="239.82" y1="735.3" x2="239.82" y2="727.3" class="tk"/>
<rect x="318.08" y="678.33" width="11.18" height="56.97" fill="#fff"/><path d="M325.91 678.33L318.08 686.16M329.26 689.79L318.08 700.97M329.26 704.6L318.08 715.77M329.26 719.4L318.08 730.58M329.26 734.21L328.17 735.3M318.08 727.47L325.91 735.3M318.08 712.66L329.26 723.84M318.08 697.86L329.26 709.04M318.08 683.05L329.26 694.23M328.17 678.33L329.26 679.42" stroke="#1f77b4" class="h"/><rect x="318.08" y="678.33" width="11.18" height="56.97" class="bar"/>
<path d="M323.67 554.6V735.3M319.67 554.6H327.67" class="eb"/>
<rect x="329.26" y="677.61" width="11.18" height="57.69" fill="#fff"/><path d="M329.54 677.61L329.26 677.89M336.94 677.61L329.26 685.29M340.43 681.52L329.26 692.7M340.43 688.92L329.26 700.1M340.43 696.33L329.26 707.5M340.43 703.73L329.26 714.91M340.43 711.13L329.26 722.31M340.43 718.54L329.26 729.71M340.43 725.94L331.07 735.3M340.43 733.34L338.48 735.3M329.26 735.01L329.54 735.3M329.26 727.61L336.94 735.3M329.26 720.21L340.43 731.39M329.26 712.8L340.43 723.98M329.26 705.4L340.43 716.58M329.26 698L340.43 709.18M329.26 690.59L340.43 701.77M329.26 683.19L340.43 694.37M331.07 677.61L340.43 686.97M338.48 677.61L340.43 679.56" stroke="#ff7f0e" class="h"/><rect x="329.26" y="677.61" width="11.18" height="57.69" class="bar"/>
<path d="M334.85 554.6V735.3M330.85 554.6H338.85" class="eb"/>
<rect x="340.43" y="678.33" width="11.18" height="56.97" fill="#2ca02c"/><rect x="340.43" y="678.33" width="11.18" height="56.97" class="bar"/>
<path d="M346.02 554.6V735.3M342.02 554.6H350.02" class="eb"/>
<rect x="351.61" y="676.52" width="11.18" height="58.78" fill="#fff"/><path d="M351.61 727.82L359.09 735.3M351.61 713.02L362.79 724.2M351.61 698.21L362.79 709.39M351.61 683.4L362.79 694.58M359.53 676.52L362.79 679.77" stroke="#d62728" class="h"/><rect x="351.61" y="676.52" width="11.18" height="58.78" class="bar"/>
<path d="M357.2 554.6V735.3M353.2 554.6H361.2" class="eb"/>
<rect x="362.79" y="683.41" width="11.18" height="51.89" fill="#fff"/><path d="M371.6 683.41L362.79 692.22M373.97 695.85L362.79 707.03M373.97 710.65L362.79 721.83M373.97 725.46L364.13 735.3" stroke="#9467bd" class="h"/><rect x="362.79" y="683.41" width="11.18" height="51.89" class="bar"/>
<path d="M368.38 554.6V735.3M364.38 554.6H372.38" class="eb"/>
<rect x="373.97" y="519.4" width="11.18" height="215.9" fill="#fff"/><path d="M373.97 729.16L377.52 735.3M373.97 718.69L383.56 735.3M373.97 708.22L385.15 727.58M373.97 697.75L385.15 717.11M373.97 687.28L385.15 706.64M373.97 676.81L385.15 696.17M373.97 666.34L385.15 685.7M373.97 655.87L385.15 675.23M373.97 645.4L385.15 664.76M373.97 634.93L385.15 654.29M373.97 624.46L385.15 643.82M373.97 613.99L385.15 633.35M373.97 603.52L385.15 622.88M373.97 593.05L385.15 612.41M373.97 582.58L385.15 601.94M373.97 572.11L385.15 591.47M373.97 561.64L385.15 581M373.97 551.17L385.15 570.53M373.97 540.7L385.15 560.06M373.97 530.23L385.15 549.59M373.97 519.76L385.15 539.12M379.81 519.4L385.15 528.65" stroke="#8c564b" class="h"/><rect x="373.97" y="519.4" width="11.18" height="215.9" class="bar"/>
<path d="M379.56 484.2V554.6M375.56 484.2H383.56M375.56 554.6H383.56" class="eb"/>
<rect x="385.15" y="554.6" width="11.18" height="180.7" fill="#fff"/><path d="M386.73 554.6L385.15 557.34M392.78 554.6L385.15 567.81M396.33 558.92L385.15 578.28M396.33 569.39L385.15 588.75M396.33 579.86L385.15 599.22M396.33 590.33L385.15 609.69M396.33 600.8L385.15 620.16M396.33 611.27L385.15 630.63M396.33 621.74L385.15 641.1M396.33 632.21L385.15 651.57M396.33 642.68L385.15 662.04M396.33 653.15L385.15 672.51M396.33 663.62L385.15 682.98M396.33 674.09L385.15 693.45M396.33 684.56L385.15 703.92M396.33 695.03L385.15 714.39M396.33 705.5L385.15 724.86M396.33 715.97L385.17 735.3M396.33 726.44L391.21 735.3" stroke="#e377c2" class="h"/><rect x="385.15" y="554.6" width="11.18" height="180.7" class="bar"/>
<rect x="407.51" y="636.6" width="11.18" height="98.7" fill="#fff"/><path d="M418.69 639.74L407.51 650.92M418.69 654.55L407.51 665.73M418.69 669.35L407.51 680.53M418.69 684.16L407.51 695.34M418.69 698.97L407.51 710.15M418.69 713.77L407.51 724.95M418.69 728.58L411.97 735.3M407.51 720.98L418.69 732.16M407.51 706.18L418.69 717.36M407.51 691.37L418.69 702.55M407.51 676.56L418.69 687.74M407.51 661.76L418.69 672.94M407.51 646.95L418.69 658.13M411.97 636.6L418.69 643.32" stroke="#bcbd22" class="h"/><rect x="407.51" y="636.6" width="11.18" height="98.7" class="bar"/>
<rect x="418.69" y="676.52" width="11.18" height="58.78" fill="#fff"/><path d="M418.76 676.52L418.69 676.59M426.16 676.52L418.69 683.99M429.87 680.22L418.69 691.4M429.87 687.62L418.69 698.8M429.87 695.03L418.69 706.2M429.87 702.43L418.69 713.61M429.87 709.83L418.69 721.01M429.87 717.24L418.69 728.41M429.87 724.64L419.2 735.3M429.87 732.04L426.61 735.3M418.69 735.23L418.76 735.3M418.69 727.82L426.16 735.3M418.69 720.42L429.87 731.6M418.69 713.02L429.87 724.2M418.69 705.61L429.87 716.79M418.69 698.21L429.87 709.39M418.69 690.81L429.87 701.98M418.69 683.4L429.87 694.58M419.2 676.52L429.87 687.18M426.61 676.52L429.87 679.77" stroke="#17becf" class="h"/><rect x="418.69" y="676.52" width="11.18" height="58.78" class="bar"/>
<rect x="429.87" y="531.74" width="11.18" height="203.56" fill="#fff"/><path d="M429.87 727.67L437.5 735.3M429.87 712.86L441.04 724.04M429.87 698.05L441.04 709.23M429.87 683.25L441.04 694.42M429.87 668.44L441.04 679.62M429.87 653.63L441.04 664.81M429.87 638.83L441.04 650M429.87 624.02L441.04 635.2M429.87 609.21L441.04 620.39M429.87 594.4L441.04 605.58M429.87 579.6L441.04 590.78M429.87 564.79L441.04 575.97M429.87 549.98L441.04 561.16M429.87 535.18L441.04 546.36" stroke="#ff9896" class="h"/><rect x="429.87" y="531.74" width="11.18" height="203.56" class="bar"/>
<rect x="441.04" y="514.32" width="11.18" height="220.98" fill="#fff"/><path d="M441.04 731.69L443.13 735.3M441.04 721.22L449.17 735.3M441.04 710.75L452.22 730.11M441.04 700.28L452.22 719.64M441.04 689.81L452.22 709.17M441.04 679.34L452.22 698.7M441.04 668.87L452.22 688.23M441.04 658.4L452.22 677.76M441.04 647.93L452.22 667.29M441.04 637.46L452.22 656.82M441.04 626.99L452.22 646.35M441.04 616.52L452.22 635.88M441.04 606.05L452.22 625.41M441.04 595.58L452.22 614.94M441.04 585.11L452.22 604.47M441.04 574.64L452.22 594M441.04 564.17L452.22 583.53M441.04 553.7L452.22 573.06M441.04 543.23L452.22 562.59M441.04 532.76L452.22 552.12M441.04 522.29L452.22 541.65M442.49 514.32L452.22 531.18M448.53 514.32L452.22 520.71" stroke="#98df8a" class="h"/><rect x="441.04" y="514.32" width="11.18" height="220.98" class="bar"/>
<text transform="translate(385.15 777.9) scale(1 1.04)" class="xl">Mn</text>
<line x1="385.15" y1="481.3" x2="385.15" y2="489.3" class="tk"/>
<line x1="385.15" y1="735.3" x2="385.15" y2="727.3" class="tk"/>
<rect x="463.4" y="629.71" width="11.18" height="105.59" fill="#fff"/><path d="M474.58 631.45L463.4 642.63M474.58 646.25L463.4 657.43M474.58 661.06L463.4 672.24M474.58 675.87L463.4 687.05M474.58 690.67L463.4 701.85M474.58 705.48L463.4 716.66M474.58 720.29L463.4 731.47M474.58 735.09L474.38 735.3M463.4 722.38L474.58 733.56M463.4 707.58L474.58 718.75M463.4 692.77L474.58 703.95M463.4 677.96L474.58 689.14M463.4 663.16L474.58 674.33M463.4 648.35L474.58 659.53M463.4 633.54L474.58 644.72M474.38 629.71L474.58 629.91" stroke="#1f77b4" class="h"/><rect x="463.4" y="629.71" width="11.18" height="105.59" class="bar"/>
<path d="M468.99 527.75V731.67M464.99 527.75H472.99M464.99 731.67H472.99" class="eb"/>
<rect x="474.58" y="631.89" width="11.18" height="103.41" fill="#fff"/><path d="M480.54 631.89L474.58 637.84M485.76 634.07L474.58 645.24M485.76 641.47L474.58 652.65M485.76 648.87L474.58 660.05M485.76 656.28L474.58 667.46M485.76 663.68L474.58 674.86M485.76 671.08L474.58 682.26M485.76 678.49L474.58 689.67M485.76 685.89L474.58 697.07M485.76 693.29L474.58 704.47M485.76 700.7L474.58 711.88M485.76 708.1L474.58 719.28M485.76 715.5L474.58 726.68M485.76 722.91L474.58 734.09M485.76 730.31L480.77 735.3M474.58 729.34L480.54 735.3M474.58 721.94L485.76 733.12M474.58 714.54L485.76 725.72M474.58 707.13L485.76 718.31M474.58 699.73L485.76 710.91M474.58 692.33L485.76 703.51M474.58 684.92L485.76 696.1M474.58 677.52L485.76 688.7M474.58 670.12L485.76 681.3M474.58 662.71L485.76 673.89M474.58 655.31L485.76 666.49M474.58 647.91L485.76 659.09M474.58 640.5L485.76 651.68M474.58 633.1L485.76 644.28M480.77 631.89L485.76 636.88" stroke="#ff7f0e" class="h"/><rect x="474.58" y="631.89" width="11.18" height="103.41" class="bar"/>
<path d="M480.17 527.75V735.3M476.17 527.75H484.17" class="eb"/>
<rect x="485.76" y="631.16" width="11.18" height="104.14" fill="#2ca02c"/><rect x="485.76" y="631.16" width="11.18" height="104.14" class="bar"/>
<path d="M491.35 527.75V734.57M487.35 527.75H495.35M487.35 734.57H495.35" class="eb"/>
<rect x="496.94" y="629.71" width="11.18" height="105.59" fill="#fff"/><path d="M496.94 722.38L508.12 733.56M496.94 707.58L508.12 718.75M496.94 692.77L508.12 703.95M496.94 677.96L508.12 689.14M496.94 663.16L508.12 674.33M496.94 648.35L508.12 659.53M496.94 633.54L508.12 644.72M507.91 629.71L508.12 629.91" stroke="#d62728" class="h"/><rect x="496.94" y="629.71" width="11.18" height="105.59" class="bar"/>
<path d="M502.53 527.75V731.67M498.53 527.75H506.53M498.53 731.67H506.53" class="eb"/>
<rect x="508.12" y="635.51" width="11.18" height="99.79" fill="#fff"/><path d="M519.3 638.43L508.12 649.61M519.3 653.24L508.12 664.42M519.3 668.04L508.12 679.22M519.3 682.85L508.12 694.03M519.3 697.66L508.12 708.84M519.3 712.46L508.12 723.64M519.3 727.27L511.27 735.3" stroke="#9467bd" class="h"/><rect x="508.12" y="635.51" width="11.18" height="99.79" class="bar"/>
<path d="M513.71 527.75V735.3M509.71 527.75H517.71" class="eb"/>
<rect x="519.3" y="634.06" width="11.18" height="101.24" fill="#fff"/><path d="M519.3 734.97L519.49 735.3M519.3 724.5L525.53 735.3M519.3 714.03L530.47 733.4M519.3 703.56L530.47 722.93M519.3 693.09L530.47 712.46M519.3 682.62L530.47 701.99M519.3 672.15L530.47 691.52M519.3 661.68L530.47 681.05M519.3 651.21L530.47 670.58M519.3 640.74L530.47 660.11M521.48 634.06L530.47 649.64M527.53 634.06L530.47 639.17" stroke="#8c564b" class="h"/><rect x="519.3" y="634.06" width="11.18" height="101.24" class="bar"/>
<path d="M524.89 527.75V735.3M520.89 527.75H528.89" class="eb"/>
<rect x="530.47" y="532.46" width="11.18" height="202.84" fill="#fff"/><path d="M531.74 532.46L530.47 534.65M537.78 532.46L530.47 545.12M541.65 536.23L530.47 555.59M541.65 546.7L530.47 566.06M541.65 557.17L530.47 576.53M541.65 567.64L530.47 587M541.65 578.11L530.47 597.47M541.65 588.58L530.47 607.94M541.65 599.05L530.47 618.41M541.65 609.52L530.47 628.88M541.65 619.99L530.47 639.35M541.65 630.46L530.47 649.82M541.65 640.93L530.47 660.29M541.65 651.4L530.47 670.76M541.65 661.87L530.47 681.23M541.65 672.34L530.47 691.7M541.65 682.81L530.47 702.17M541.65 693.28L530.47 712.64M541.65 703.75L530.47 723.11M541.65 714.22L530.47 733.58M541.65 724.69L535.53 735.3M541.65 735.16L541.57 735.3" stroke="#e377c2" class="h"/><rect x="530.47" y="532.46" width="11.18" height="202.84" class="bar"/>
<rect x="541.65" y="524.48" width="11.18" height="210.82" fill="#fff"/><rect x="541.65" y="524.48" width="11.18" height="210.82" class="bar"/>
<rect x="552.83" y="582.54" width="11.18" height="152.76" fill="#fff"/><path d="M556.11 582.54L552.83 585.81M564.01 589.44L552.83 600.62M564.01 604.25L552.83 615.43M564.01 619.05L552.83 630.23M564.01 633.86L552.83 645.04M564.01 648.67L552.83 659.85M564.01 663.48L552.83 674.65M564.01 678.28L552.83 689.46M564.01 693.09L552.83 704.27M564.01 707.9L552.83 719.07M564.01 722.7L552.83 733.88M552.83 732.02L556.11 735.3M552.83 717.22L564.01 728.4M552.83 702.41L564.01 713.59M552.83 687.6L564.01 698.78M552.83 672.8L564.01 683.98M552.83 657.99L564.01 669.17M552.83 643.18L564.01 654.36M552.83 628.38L564.01 639.56M552.83 613.57L564.01 624.75M552.83 598.76L564.01 609.94M552.83 583.96L564.01 595.13" stroke="#bcbd22" class="h"/><rect x="552.83" y="582.54" width="11.18" height="152.76" class="bar"/>
<rect x="564.01" y="653.66" width="11.18" height="81.64" fill="#fff"/><path d="M566.96 653.66L564.01 656.61M574.36 653.66L564.01 664.01M575.19 660.23L564.01 671.41M575.19 667.64L564.01 678.82M575.19 675.04L564.01 686.22M575.19 682.44L564.01 693.62M575.19 689.85L564.01 701.03M575.19 697.25L564.01 708.43M575.19 704.65L564.01 715.83M575.19 712.06L564.01 723.24M575.19 719.46L564.01 730.64M575.19 726.86L566.75 735.3M575.19 734.27L574.16 735.3M564.01 732.35L566.96 735.3M564.01 724.95L574.36 735.3M564.01 717.54L575.19 728.72M564.01 710.14L575.19 721.32M564.01 702.74L575.19 713.92M564.01 695.33L575.19 706.51M564.01 687.93L575.19 699.11M564.01 680.53L575.19 691.71M564.01 673.12L575.19 684.3M564.01 665.72L575.19 676.9M564.01 658.32L575.19 669.5M566.75 653.66L575.19 662.09M574.16 653.66L575.19 654.69" stroke="#17becf" class="h"/><rect x="564.01" y="653.66" width="11.18" height="81.64" class="bar"/>
<rect x="575.19" y="601.41" width="11.18" height="133.89" fill="#fff"/><path d="M575.19 728.16L582.33 735.3M575.19 713.35L586.37 724.53M575.19 698.54L586.37 709.72M575.19 683.74L586.37 694.92M575.19 668.93L586.37 680.11M575.19 654.12L586.37 665.3M575.19 639.32L586.37 650.49M575.19 624.51L586.37 635.69M575.19 609.7L586.37 620.88M581.7 601.41L586.37 606.07" stroke="#ff9896" class="h"/><rect x="575.19" y="601.41" width="11.18" height="133.89" class="bar"/>
<rect x="586.37" y="540.81" width="11.18" height="194.49" fill="#fff"/><path d="M586.37 728.96L590.03 735.3M586.37 718.49L596.08 735.3M586.37 708.02L597.55 727.38M586.37 697.55L597.55 716.91M586.37 687.08L597.55 706.44M586.37 676.61L597.55 695.97M586.37 666.14L597.55 685.5M586.37 655.67L597.55 675.03M586.37 645.2L597.55 664.56M586.37 634.73L597.55 654.09M586.37 624.26L597.55 643.62M586.37 613.79L597.55 633.15M586.37 603.32L597.55 622.68M586.37 592.85L597.55 612.21M586.37 582.38L597.55 601.74M586.37 571.91L597.55 591.27M586.37 561.44L597.55 580.8M586.37 550.97L597.55 570.33M586.55 540.81L597.55 559.86M592.59 540.81L597.55 549.39" stroke="#98df8a" class="h"/><rect x="586.37" y="540.81" width="11.18" height="194.49" class="bar"/>
<text transform="translate(530.47 777.9) scale(1 1.04)" class="xl">Fe</text>
<line x1="530.47" y1="481.3" x2="530.47" y2="489.3" class="tk"/>
<line x1="530.47" y1="735.3" x2="530.47" y2="727.3" class="tk"/>
<text transform="translate(75.6 746) scale(1 1.04)" class="yl">0</text>
<line x1="94.5" y1="699.01" x2="98.5" y2="699.01" class="tk"/>
<line x1="675.8" y1="699.01" x2="671.8" y2="699.01" class="tk"/>
<line x1="94.5" y1="662.73" x2="102.5" y2="662.73" class="tk"/>
<line x1="675.8" y1="662.73" x2="667.8" y2="662.73" class="tk"/>
<text transform="translate(75.6 673.43) scale(1 1.04)" class="yl">2</text>
<line x1="94.5" y1="626.44" x2="98.5" y2="626.44" class="tk"/>
<line x1="675.8" y1="626.44" x2="671.8" y2="626.44" class="tk"/>
<line x1="94.5" y1="590.16" x2="102.5" y2="590.16" class="tk"/>
<line x1="675.8" y1="590.16" x2="667.8" y2="590.16" class="tk"/>
<text transform="translate(75.6 600.86) scale(1 1.04)" class="yl">4</text>
<line x1="94.5" y1="553.87" x2="98.5" y2="553.87" class="tk"/>
<line x1="675.8" y1="553.87" x2="671.8" y2="553.87" class="tk"/>
<line x1="94.5" y1="517.59" x2="102.5" y2="517.59" class="tk"/>
<line x1="675.8" y1="517.59" x2="667.8" y2="517.59" class="tk"/>
<text transform="translate(75.6 528.29) scale(1 1.04)" class="yl">6</text>
<rect x="94.5" y="481.3" width="581.3" height="254" class="frame"/>
<text transform="translate(13.2 609.5) rotate(-90)" class="yt">Viscosity Coefficient μ (mPas)</text>
<rect x="85.5" y="411.2" width="599.1" height="47.1" fill="#fff" stroke="#444" stroke-width="1"/>
<rect x="179.7" y="415.5" width="46.2" height="7.9" fill="#fff"/><path d="M188.41 415.5L180.51 423.4M203.22 415.5L195.32 423.4M218.03 415.5L210.13 423.4M225.9 422.43L224.93 423.4M180.51 415.5L188.41 423.4M195.32 415.5L203.22 423.4M210.13 415.5L218.03 423.4M224.93 415.5L225.9 416.47" stroke="#1f77b4" class="h"/><rect x="179.7" y="415.5" width="46.2" height="7.9" class="sw"/>
<text x="170.2" y="424.8" class="lg">IU</text>
<rect x="179.7" y="431.05" width="46.2" height="7.9" fill="#fff"/><path d="M181.01 431.05L179.7 432.36M188.41 431.05L180.51 438.95M195.82 431.05L187.92 438.95M203.22 431.05L195.32 438.95M210.62 431.05L202.72 438.95M218.03 431.05L210.13 438.95M225.43 431.05L217.53 438.95M225.9 437.98L224.93 438.95M179.7 437.64L181.01 438.95M180.51 431.05L188.41 438.95M187.92 431.05L195.82 438.95M195.32 431.05L203.22 438.95M202.72 431.05L210.62 438.95M210.13 431.05L218.03 438.95M217.53 431.05L225.43 438.95M224.93 431.05L225.9 432.02" stroke="#ff7f0e" class="h"/><rect x="179.7" y="431.05" width="46.2" height="7.9" class="sw"/>
<text x="170.2" y="440.35" class="lg">VS</text>
<rect x="179.7" y="446.6" width="46.2" height="7.9" fill="#2ca02c"/><rect x="179.7" y="446.6" width="46.2" height="7.9" class="sw"/>
<text x="170.2" y="455.9" class="lg">TY</text>
<rect x="329.4" y="415.5" width="46.2" height="7.9" fill="#fff"/><path d="M330.21 415.5L338.11 423.4M345.02 415.5L352.92 423.4M359.83 415.5L367.73 423.4M374.63 415.5L375.6 416.47" stroke="#d62728" class="h"/><rect x="329.4" y="415.5" width="46.2" height="7.9" class="sw"/>
<text x="319.9" y="424.8" class="lg">SR</text>
<rect x="329.4" y="431.05" width="46.2" height="7.9" fill="#fff"/><path d="M338.11 431.05L330.21 438.95M352.92 431.05L345.02 438.95M367.73 431.05L359.83 438.95M375.6 437.98L374.63 438.95" stroke="#9467bd" class="h"/><rect x="329.4" y="431.05" width="46.2" height="7.9" class="sw"/>
<text x="319.9" y="440.35" class="lg">FR</text>
<rect x="329.4" y="446.6" width="46.2" height="7.9" fill="#fff"/><path d="M329.4 446.94L333.76 454.5M335.25 446.6L339.81 454.5M341.29 446.6L345.85 454.5M347.34 446.6L351.9 454.5M353.38 446.6L357.94 454.5M359.43 446.6L363.99 454.5M365.47 446.6L370.03 454.5M371.52 446.6L375.6 453.67" stroke="#8c564b" class="h"/><rect x="329.4" y="446.6" width="46.2" height="7.9" class="sw"/>
<text x="319.9" y="455.9" class="lg">EAM</text>
<rect x="479.2" y="415.5" width="46.2" height="7.9" fill="#fff"/><path d="M483.56 415.5L479.2 423.06M489.61 415.5L485.05 423.4M495.65 415.5L491.09 423.4M501.7 415.5L497.14 423.4M507.74 415.5L503.18 423.4M513.79 415.5L509.23 423.4M519.83 415.5L515.27 423.4M525.4 416.33L521.32 423.4" stroke="#e377c2" class="h"/><rect x="479.2" y="415.5" width="46.2" height="7.9" class="sw"/>
<text x="469.7" y="424.8" class="lg">EXP [11]</text>
<rect x="479.2" y="431.05" width="46.2" height="7.9" fill="#fff"/><rect x="479.2" y="431.05" width="46.2" height="7.9" class="sw"/>
<text x="469.7" y="440.35" class="lg">EXP [84]</text>
<rect x="479.2" y="446.6" width="46.2" height="7.9" fill="#fff"/><path d="M487.91 446.6L480.01 454.5M502.72 446.6L494.82 454.5M517.53 446.6L509.63 454.5M525.4 453.53L524.43 454.5M480.01 446.6L487.91 454.5M494.82 446.6L502.72 454.5M509.63 446.6L517.53 454.5M524.43 446.6L525.4 447.57" stroke="#bcbd22" class="h"/><rect x="479.2" y="446.6" width="46.2" height="7.9" class="sw"/>
<text x="469.7" y="455.9" class="lg">Theo [85]</text>
<rect x="629.1" y="415.5" width="46.2" height="7.9" fill="#fff"/><path d="M630.41 415.5L629.1 416.81M637.81 415.5L629.91 423.4M645.22 415.5L637.32 423.4M652.62 415.5L644.72 423.4M660.02 415.5L652.12 423.4M667.43 415.5L659.53 423.4M674.83 415.5L666.93 423.4M675.3 422.43L674.33 423.4M629.1 422.09L630.41 423.4M629.91 415.5L637.81 423.4M637.32 415.5L645.22 423.4M644.72 415.5L652.62 423.4M652.12 415.5L660.02 423.4M659.53 415.5L667.43 423.4M666.93 415.5L674.83 423.4M674.33 415.5L675.3 416.47" stroke="#17becf" class="h"/><rect x="629.1" y="415.5" width="46.2" height="7.9" class="sw"/>
<text x="619.6" y="424.8" class="lg">Theo [86]</text>
<rect x="629.1" y="431.05" width="46.2" height="7.9" fill="#fff"/><path d="M629.91 431.05L637.81 438.95M644.72 431.05L652.62 438.95M659.53 431.05L667.43 438.95M674.33 431.05L675.3 432.02" stroke="#ff9896" class="h"/><rect x="629.1" y="431.05" width="46.2" height="7.9" class="sw"/>
<text x="619.6" y="440.35" class="lg">Theo [8]</text>
<rect x="629.1" y="446.6" width="46.2" height="7.9" fill="#fff"/><path d="M629.1 446.94L633.46 454.5M634.95 446.6L639.51 454.5M640.99 446.6L645.55 454.5M647.04 446.6L651.6 454.5M653.08 446.6L657.64 454.5M659.13 446.6L663.69 454.5M665.17 446.6L669.73 454.5M671.22 446.6L675.3 453.67" stroke="#98df8a" class="h"/><rect x="629.1" y="446.6" width="46.2" height="7.9" class="sw"/>
<text x="619.6" y="455.9" class="lg">Theo [44]</text>
<line x1="94.5" y1="1114.01" x2="675.8" y2="1114.01" class="grid"/>
<line x1="94.5" y1="1050.64" x2="675.8" y2="1050.64" class="grid"/>
<line x1="94.5" y1="987.26" x2="675.8" y2="987.26" class="grid"/>
<line x1="94.5" y1="923.89" x2="675.8" y2="923.89" class="grid"/>
<rect x="172.75" y="1072.18" width="11.18" height="73.52" fill="#fff"/><path d="M177.33 1072.18L172.75 1076.76M183.93 1080.39L172.75 1091.57M183.93 1095.19L172.75 1106.37M183.93 1110L172.75 1121.18M183.93 1124.81L172.75 1135.99M183.93 1139.61L177.84 1145.7M172.75 1141.13L177.33 1145.7M172.75 1126.32L183.93 1137.5M172.75 1111.51L183.93 1122.69M172.75 1096.71L183.93 1107.89M172.75 1081.9L183.93 1093.08M177.84 1072.18L183.93 1078.27" stroke="#1f77b4" class="h"/><rect x="172.75" y="1072.18" width="11.18" height="73.52" class="bar"/>
<path d="M178.34 945.44V1145.7M174.34 945.44H182.34" class="eb"/>
<rect x="183.93" y="1075.67" width="11.18" height="70.03" fill="#fff"/><path d="M189.2 1075.67L183.93 1080.94M195.11 1077.16L183.93 1088.34M195.11 1084.56L183.93 1095.74M195.11 1091.97L183.93 1103.15M195.11 1099.37L183.93 1110.55M195.11 1106.77L183.93 1117.95M195.11 1114.18L183.93 1125.36M195.11 1121.58L183.93 1132.76M195.11 1128.98L183.93 1140.16M195.11 1136.39L185.8 1145.7M195.11 1143.79L193.2 1145.7M183.93 1140.43L189.2 1145.7M183.93 1133.03L195.11 1144.21M183.93 1125.63L195.11 1136.81M183.93 1118.22L195.11 1129.4M183.93 1110.82L195.11 1122M183.93 1103.42L195.11 1114.6M183.93 1096.01L195.11 1107.19M183.93 1088.61L195.11 1099.79M183.93 1081.21L195.11 1092.39M185.8 1075.67L195.11 1084.98M193.2 1075.67L195.11 1077.58" stroke="#ff7f0e" class="h"/><rect x="183.93" y="1075.67" width="11.18" height="70.03" class="bar"/>
<path d="M189.52 945.44V1145.7M185.52 945.44H193.52" class="eb"/>
<rect x="195.11" y="1072.18" width="11.18" height="73.52" fill="#2ca02c"/><rect x="195.11" y="1072.18" width="11.18" height="73.52" class="bar"/>
<path d="M200.7 945.44V1145.7M196.7 945.44H204.7" class="eb"/>
<rect x="206.29" y="1072.18" width="11.18" height="73.52" fill="#fff"/><path d="M206.29 1141.13L210.86 1145.7M206.29 1126.32L217.47 1137.5M206.29 1111.51L217.47 1122.69M206.29 1096.71L217.47 1107.89M206.29 1081.9L217.47 1093.08M211.38 1072.18L217.47 1078.27" stroke="#d62728" class="h"/><rect x="206.29" y="1072.18" width="11.18" height="73.52" class="bar"/>
<path d="M211.88 945.44V1145.7M207.88 945.44H215.88" class="eb"/>
<rect x="217.47" y="1081.69" width="11.18" height="64.01" fill="#fff"/><path d="M223.92 1081.69L217.47 1088.15M228.65 1091.77L217.47 1102.95M228.65 1106.58L217.47 1117.76M228.65 1121.39L217.47 1132.57M228.65 1136.19L219.14 1145.7" stroke="#9467bd" class="h"/><rect x="217.47" y="1081.69" width="11.18" height="64.01" class="bar"/>
<path d="M223.06 945.44V1145.7M219.06 945.44H227.06" class="eb"/>
<rect x="228.65" y="980.29" width="11.18" height="165.41" fill="#fff"/><path d="M228.65 1135.34L234.63 1145.7M228.65 1124.87L239.82 1144.23M228.65 1114.4L239.82 1133.76M228.65 1103.93L239.82 1123.29M228.65 1093.46L239.82 1112.82M228.65 1082.99L239.82 1102.35M228.65 1072.52L239.82 1091.88M228.65 1062.05L239.82 1081.41M228.65 1051.58L239.82 1070.94M228.65 1041.11L239.82 1060.47M228.65 1030.64L239.82 1050M228.65 1020.17L239.82 1039.53M228.65 1009.7L239.82 1029.06M228.65 999.23L239.82 1018.59M228.65 988.76L239.82 1008.12M229.8 980.29L239.82 997.65M235.85 980.29L239.82 987.18" stroke="#8c564b" class="h"/><rect x="228.65" y="980.29" width="11.18" height="165.41" class="bar"/>
<path d="M234.24 945.44V1015.15M230.24 945.44H238.24M230.24 1015.15H238.24" class="eb"/>
<rect x="239.82" y="974.27" width="11.18" height="171.43" fill="#fff"/><path d="M244.08 974.27L239.82 981.63M250.12 974.27L239.82 992.1M251 983.21L239.82 1002.57M251 993.68L239.82 1013.04M251 1004.15L239.82 1023.51M251 1014.62L239.82 1033.98M251 1025.09L239.82 1044.45M251 1035.56L239.82 1054.92M251 1046.03L239.82 1065.39M251 1056.5L239.82 1075.86M251 1066.97L239.82 1086.33M251 1077.44L239.82 1096.8M251 1087.91L239.82 1107.27M251 1098.38L239.82 1117.74M251 1108.85L239.82 1128.21M251 1119.32L239.82 1138.68M251 1129.79L241.82 1145.7M251 1140.26L247.86 1145.7" stroke="#e377c2" class="h"/><rect x="239.82" y="974.27" width="11.18" height="171.43" class="bar"/>
<rect x="262.18" y="1008.81" width="11.18" height="136.89" fill="#fff"/><path d="M268.71 1008.81L262.18 1015.34M273.36 1018.97L262.18 1030.15M273.36 1033.77L262.18 1044.95M273.36 1048.58L262.18 1059.76M273.36 1063.39L262.18 1074.57M273.36 1078.2L262.18 1089.37M273.36 1093L262.18 1104.18M273.36 1107.81L262.18 1118.99M273.36 1122.62L262.18 1133.79M273.36 1137.42L265.08 1145.7M262.18 1139.17L268.71 1145.7M262.18 1124.36L273.36 1135.54M262.18 1109.56L273.36 1120.74M262.18 1094.75L273.36 1105.93M262.18 1079.94L273.36 1091.12M262.18 1065.14L273.36 1076.31M262.18 1050.33L273.36 1061.51M262.18 1035.52L273.36 1046.7M262.18 1020.72L273.36 1031.89M265.08 1008.81L273.36 1017.09" stroke="#bcbd22" class="h"/><rect x="262.18" y="1008.81" width="11.18" height="136.89" class="bar"/>
<rect x="273.36" y="1079.47" width="11.18" height="66.23" fill="#fff"/><path d="M279.38 1079.47L273.36 1085.49M284.54 1081.72L273.36 1092.89M284.54 1089.12L273.36 1100.3M284.54 1096.52L273.36 1107.7M284.54 1103.93L273.36 1115.1M284.54 1111.33L273.36 1122.51M284.54 1118.73L273.36 1129.91M284.54 1126.14L273.36 1137.31M284.54 1133.54L273.36 1144.72M284.54 1140.94L279.78 1145.7M273.36 1139.68L279.38 1145.7M273.36 1132.28L284.54 1143.46M273.36 1124.88L284.54 1136.05M273.36 1117.47L284.54 1128.65M273.36 1110.07L284.54 1121.25M273.36 1102.67L284.54 1113.84M273.36 1095.26L284.54 1106.44M273.36 1087.86L284.54 1099.04M273.36 1080.45L284.54 1091.63M279.78 1079.47L284.54 1084.23" stroke="#17becf" class="h"/><rect x="273.36" y="1079.47" width="11.18" height="66.23" class="bar"/>
<rect x="284.54" y="988.53" width="11.18" height="157.17" fill="#fff"/><path d="M284.54 1143.33L286.91 1145.7M284.54 1128.52L295.72 1139.7M284.54 1113.72L295.72 1124.89M284.54 1098.91L295.72 1110.09M284.54 1084.1L295.72 1095.28M284.54 1069.29L295.72 1080.47M284.54 1054.49L295.72 1065.67M284.54 1039.68L295.72 1050.86M284.54 1024.87L295.72 1036.05M284.54 1010.07L295.72 1021.25M284.54 995.26L295.72 1006.44M292.62 988.53L295.72 991.63" stroke="#ff9896" class="h"/><rect x="284.54" y="988.53" width="11.18" height="157.17" class="bar"/>
<rect x="295.72" y="990.43" width="11.18" height="155.27" fill="#fff"/><path d="M295.72 1140.77L298.57 1145.7M295.72 1130.3L304.61 1145.7M295.72 1119.83L306.9 1139.19M295.72 1109.36L306.9 1128.72M295.72 1098.89L306.9 1118.25M295.72 1088.42L306.9 1107.78M295.72 1077.95L306.9 1097.31M295.72 1067.48L306.9 1086.84M295.72 1057.01L306.9 1076.37M295.72 1046.54L306.9 1065.9M295.72 1036.07L306.9 1055.43M295.72 1025.6L306.9 1044.96M295.72 1015.13L306.9 1034.49M295.72 1004.66L306.9 1024.02M295.72 994.19L306.9 1013.55M299.6 990.43L306.9 1003.08M305.64 990.43L306.9 992.61" stroke="#98df8a" class="h"/><rect x="295.72" y="990.43" width="11.18" height="155.27" class="bar"/>
<text transform="translate(239.82 1188.3) scale(1 1.04)" class="xl">Co</text>
<line x1="239.82" y1="892.2" x2="239.82" y2="900.2" class="tk"/>
<line x1="239.82" y1="1145.7" x2="239.82" y2="1137.7" class="tk"/>
<rect x="318.08" y="1075.67" width="11.18" height="70.03" fill="#fff"/><path d="M323.34 1075.67L318.08 1080.94M329.26 1084.56L318.08 1095.74M329.26 1099.37L318.08 1110.55M329.26 1114.18L318.08 1125.36M329.26 1128.98L318.08 1140.16M329.26 1143.79L327.35 1145.7M318.08 1140.43L323.34 1145.7M318.08 1125.63L329.26 1136.81M318.08 1110.82L329.26 1122M318.08 1096.01L329.26 1107.19M318.08 1081.21L329.26 1092.39M327.35 1075.67L329.26 1077.58" stroke="#1f77b4" class="h"/><rect x="318.08" y="1075.67" width="11.18" height="70.03" class="bar"/>
<path d="M323.67 941.32V1145.7M319.67 941.32H327.67" class="eb"/>
<rect x="329.26" y="1076.94" width="11.18" height="68.76" fill="#fff"/><path d="M334.77 1076.94L329.26 1082.45M340.43 1078.68L329.26 1089.86M340.43 1086.08L329.26 1097.26M340.43 1093.49L329.26 1104.67M340.43 1100.89L329.26 1112.07M340.43 1108.29L329.26 1119.47M340.43 1115.7L329.26 1126.88M340.43 1123.1L329.26 1134.28M340.43 1130.5L329.26 1141.68M340.43 1137.91L332.64 1145.7M340.43 1145.31L340.04 1145.7M329.26 1140.18L334.77 1145.7M329.26 1132.78L340.43 1143.96M329.26 1125.38L340.43 1136.56M329.26 1117.97L340.43 1129.15M329.26 1110.57L340.43 1121.75M329.26 1103.17L340.43 1114.34M329.26 1095.76L340.43 1106.94M329.26 1088.36L340.43 1099.54M329.26 1080.96L340.43 1092.13M332.64 1076.94L340.43 1084.73M340.04 1076.94L340.43 1077.33" stroke="#ff7f0e" class="h"/><rect x="329.26" y="1076.94" width="11.18" height="68.76" class="bar"/>
<path d="M334.85 941.32V1145.7M330.85 941.32H338.85" class="eb"/>
<rect x="340.43" y="1076.94" width="11.18" height="68.76" fill="#2ca02c"/><rect x="340.43" y="1076.94" width="11.18" height="68.76" class="bar"/>
<path d="M346.02 941.32V1145.7M342.02 941.32H350.02" class="eb"/>
<rect x="351.61" y="1062.68" width="11.18" height="83.02" fill="#fff"/><path d="M351.61 1143.03L354.29 1145.7M351.61 1128.22L362.79 1139.4M351.61 1113.41L362.79 1124.59M351.61 1098.61L362.79 1109.79M351.61 1083.8L362.79 1094.98M351.61 1068.99L362.79 1080.17M360.11 1062.68L362.79 1065.37" stroke="#d62728" class="h"/><rect x="351.61" y="1062.68" width="11.18" height="83.02" class="bar"/>
<path d="M357.2 941.32V1145.7M353.2 941.32H361.2" class="eb"/>
<rect x="362.79" y="1081.69" width="11.18" height="64.01" fill="#fff"/><path d="M369.25 1081.69L362.79 1088.15M373.97 1091.77L362.79 1102.95M373.97 1106.58L362.79 1117.76M373.97 1121.39L362.79 1132.57M373.97 1136.19L364.47 1145.7" stroke="#9467bd" class="h"/><rect x="362.79" y="1081.69" width="11.18" height="64.01" class="bar"/>
<path d="M368.38 941.32V1145.7M364.38 941.32H372.38" class="eb"/>
<rect x="373.97" y="1018.63" width="11.18" height="127.07" fill="#fff"/><path d="M373.97 1137.22L378.87 1145.7M373.97 1126.75L384.91 1145.7M373.97 1116.28L385.15 1135.65M373.97 1105.81L385.15 1125.18M373.97 1095.34L385.15 1114.71M373.97 1084.87L385.15 1104.24M373.97 1074.4L385.15 1093.77M373.97 1063.93L385.15 1083.3M373.97 1053.46L385.15 1072.83M373.97 1042.99L385.15 1062.36M373.97 1032.52L385.15 1051.89M373.97 1022.05L385.15 1041.42M378.04 1018.63L385.15 1030.95M384.09 1018.63L385.15 1020.48" stroke="#8c564b" class="h"/><rect x="373.97" y="1018.63" width="11.18" height="127.07" class="bar"/>
<path d="M379.56 941.32V1095.95M375.56 941.32H383.56M375.56 1095.95H383.56" class="eb"/>
<rect x="385.15" y="911.21" width="11.18" height="234.49" fill="#fff"/><path d="M389.39 911.21L385.15 918.55M395.43 911.21L385.15 929.02M396.33 920.13L385.15 939.49M396.33 930.6L385.15 949.96M396.33 941.07L385.15 960.43M396.33 951.54L385.15 970.9M396.33 962.01L385.15 981.37M396.33 972.48L385.15 991.84M396.33 982.95L385.15 1002.31M396.33 993.42L385.15 1012.78M396.33 1003.89L385.15 1023.25M396.33 1014.36L385.15 1033.72M396.33 1024.83L385.15 1044.19M396.33 1035.3L385.15 1054.66M396.33 1045.77L385.15 1065.13M396.33 1056.24L385.15 1075.6M396.33 1066.71L385.15 1086.07M396.33 1077.18L385.15 1096.54M396.33 1087.65L385.15 1107.01M396.33 1098.12L385.15 1117.48M396.33 1108.59L385.15 1127.95M396.33 1119.06L385.15 1138.42M396.33 1129.53L386.99 1145.7M396.33 1140L393.04 1145.7" stroke="#e377c2" class="h"/><rect x="385.15" y="911.21" width="11.18" height="234.49" class="bar"/>
<rect x="396.33" y="971.42" width="11.18" height="174.28" fill="#fff"/><rect x="396.33" y="971.42" width="11.18" height="174.28" class="bar"/>
<rect x="407.51" y="977.76" width="11.18" height="167.94" fill="#fff"/><path d="M407.67 977.76L407.51 977.91M418.69 981.54L407.51 992.72M418.69 996.35L407.51 1007.53M418.69 1011.16L407.51 1022.33M418.69 1025.96L407.51 1037.14M418.69 1040.77L407.51 1051.95M418.69 1055.58L407.51 1066.76M418.69 1070.38L407.51 1081.56M418.69 1085.19L407.51 1096.37M418.69 1100L407.51 1111.18M418.69 1114.8L407.51 1125.98M418.69 1129.61L407.51 1140.79M418.69 1144.42L417.4 1145.7M407.51 1145.54L407.67 1145.7M407.51 1130.74L418.69 1141.91M407.51 1115.93L418.69 1127.11M407.51 1101.12L418.69 1112.3M407.51 1086.31L418.69 1097.49M407.51 1071.51L418.69 1082.69M407.51 1056.7L418.69 1067.88M407.51 1041.89L418.69 1053.07M407.51 1027.09L418.69 1038.27M407.51 1012.28L418.69 1023.46M407.51 997.47L418.69 1008.65M407.51 982.67L418.69 993.85M417.4 977.76L418.69 979.04" stroke="#bcbd22" class="h"/><rect x="407.51" y="977.76" width="11.18" height="167.94" class="bar"/>
<rect x="418.69" y="1077.57" width="11.18" height="68.13" fill="#fff"/><path d="M424.33 1077.57L418.69 1083.21M429.87 1079.44L418.69 1090.62M429.87 1086.84L418.69 1098.02M429.87 1094.25L418.69 1105.42M429.87 1101.65L418.69 1112.83M429.87 1109.05L418.69 1120.23M429.87 1116.46L418.69 1127.63M429.87 1123.86L418.69 1135.04M429.87 1131.26L418.69 1142.44M429.87 1138.67L422.83 1145.7M418.69 1140.06L424.33 1145.7M418.69 1132.65L429.87 1143.83M418.69 1125.25L429.87 1136.43M418.69 1117.85L429.87 1129.03M418.69 1110.44L429.87 1121.62M418.69 1103.04L429.87 1114.22M418.69 1095.64L429.87 1106.82M418.69 1088.23L429.87 1099.41M418.69 1080.83L429.87 1092.01M422.83 1077.57L429.87 1084.61" stroke="#17becf" class="h"/><rect x="418.69" y="1077.57" width="11.18" height="68.13" class="bar"/>
<rect x="429.87" y="979.34" width="11.18" height="166.36" fill="#fff"/><path d="M429.87 1145.22L430.35 1145.7M429.87 1130.41L441.04 1141.59M429.87 1115.6L441.04 1126.78M429.87 1100.8L441.04 1111.97M429.87 1085.99L441.04 1097.17M429.87 1071.18L441.04 1082.36M429.87 1056.38L441.04 1067.55M429.87 1041.57L441.04 1052.75M429.87 1026.76L441.04 1037.94M429.87 1011.96L441.04 1023.13M429.87 997.15L441.04 1008.33M429.87 982.34L441.04 993.52" stroke="#ff9896" class="h"/><rect x="429.87" y="979.34" width="11.18" height="166.36" class="bar"/>
<rect x="441.04" y="988.21" width="11.18" height="157.49" fill="#fff"/><path d="M441.04 1141.87L443.26 1145.7M441.04 1131.4L449.3 1145.7M441.04 1120.93L452.22 1140.29M441.04 1110.46L452.22 1129.82M441.04 1099.99L452.22 1119.35M441.04 1089.52L452.22 1108.88M441.04 1079.05L452.22 1098.41M441.04 1068.58L452.22 1087.94M441.04 1058.11L452.22 1077.47M441.04 1047.64L452.22 1067M441.04 1037.17L452.22 1056.53M441.04 1026.7L452.22 1046.06M441.04 1016.23L452.22 1035.59M441.04 1005.76L452.22 1025.12M441.04 995.29L452.22 1014.65M443 988.21L452.22 1004.18M449.05 988.21L452.22 993.71" stroke="#98df8a" class="h"/><rect x="441.04" y="988.21" width="11.18" height="157.49" class="bar"/>
<text transform="translate(385.15 1188.3) scale(1 1.04)" class="xl">Ni</text>
<line x1="385.15" y1="892.2" x2="385.15" y2="900.2" class="tk"/>
<line x1="385.15" y1="1145.7" x2="385.15" y2="1137.7" class="tk"/>
<rect x="463.4" y="1046.52" width="11.18" height="99.18" fill="#fff"/><path d="M474.58 1049.56L463.4 1060.74M474.58 1064.36L463.4 1075.54M474.58 1079.17L463.4 1090.35M474.58 1093.98L463.4 1105.16M474.58 1108.78L463.4 1119.96M474.58 1123.59L463.4 1134.77M474.58 1138.4L467.28 1145.7M463.4 1131.48L474.58 1142.66M463.4 1116.68L474.58 1127.85M463.4 1101.87L474.58 1113.05M463.4 1087.06L474.58 1098.24M463.4 1072.25L474.58 1083.43M463.4 1057.45L474.58 1068.63M467.28 1046.52L474.58 1053.82" stroke="#1f77b4" class="h"/><rect x="463.4" y="1046.52" width="11.18" height="99.18" class="bar"/>
<path d="M468.99 1005.17V1087.87M464.99 1005.17H472.99M464.99 1087.87H472.99" class="eb"/>
<rect x="474.58" y="1048.42" width="11.18" height="97.28" fill="#fff"/><path d="M481.78 1048.42L474.58 1055.62M485.76 1051.84L474.58 1063.02M485.76 1059.25L474.58 1070.43M485.76 1066.65L474.58 1077.83M485.76 1074.05L474.58 1085.23M485.76 1081.46L474.58 1092.64M485.76 1088.86L474.58 1100.04M485.76 1096.26L474.58 1107.44M485.76 1103.67L474.58 1114.85M485.76 1111.07L474.58 1122.25M485.76 1118.47L474.58 1129.65M485.76 1125.88L474.58 1137.06M485.76 1133.28L474.58 1144.46M485.76 1140.68L480.74 1145.7M474.58 1138.5L481.78 1145.7M474.58 1131.1L485.76 1142.28M474.58 1123.69L485.76 1134.87M474.58 1116.29L485.76 1127.47M474.58 1108.89L485.76 1120.07M474.58 1101.48L485.76 1112.66M474.58 1094.08L485.76 1105.26M474.58 1086.68L485.76 1097.86M474.58 1079.27L485.76 1090.45M474.58 1071.87L485.76 1083.05M474.58 1064.47L485.76 1075.65M474.58 1057.06L485.76 1068.24M474.58 1049.66L485.76 1060.84M480.74 1048.42L485.76 1053.44" stroke="#ff7f0e" class="h"/><rect x="474.58" y="1048.42" width="11.18" height="97.28" class="bar"/>
<path d="M480.17 1005.17V1091.67M476.17 1005.17H484.17M476.17 1091.67H484.17" class="eb"/>
<rect x="485.76" y="1045.88" width="11.18" height="99.82" fill="#2ca02c"/><rect x="485.76" y="1045.88" width="11.18" height="99.82" class="bar"/>
<path d="M491.35 1005.17V1086.6M487.35 1005.17H495.35M487.35 1086.6H495.35" class="eb"/>
<rect x="496.94" y="1046.52" width="11.18" height="99.18" fill="#fff"/><path d="M496.94 1131.48L508.12 1142.66M496.94 1116.68L508.12 1127.85M496.94 1101.87L508.12 1113.05M496.94 1087.06L508.12 1098.24M496.94 1072.25L508.12 1083.43M496.94 1057.45L508.12 1068.63M500.82 1046.52L508.12 1053.82" stroke="#d62728" class="h"/><rect x="496.94" y="1046.52" width="11.18" height="99.18" class="bar"/>
<path d="M502.53 1005.17V1087.87M498.53 1005.17H506.53M498.53 1087.87H506.53" class="eb"/>
<rect x="508.12" y="1050.64" width="11.18" height="95.06" fill="#fff"/><path d="M508.36 1050.64L508.12 1050.88M519.3 1054.51L508.12 1065.69M519.3 1069.32L508.12 1080.5M519.3 1084.12L508.12 1095.3M519.3 1098.93L508.12 1110.11M519.3 1113.74L508.12 1124.92M519.3 1128.54L508.12 1139.72M519.3 1143.35L516.95 1145.7" stroke="#9467bd" class="h"/><rect x="508.12" y="1050.64" width="11.18" height="95.06" class="bar"/>
<path d="M513.71 1005.17V1096.11M509.71 1005.17H517.71M509.71 1096.11H517.71" class="eb"/>
<rect x="519.3" y="1050.64" width="11.18" height="95.06" fill="#fff"/><path d="M519.3 1142.33L521.24 1145.7M519.3 1131.86L527.29 1145.7M519.3 1121.39L530.47 1140.75M519.3 1110.92L530.47 1130.28M519.3 1100.45L530.47 1119.81M519.3 1089.98L530.47 1109.34M519.3 1079.51L530.47 1098.87M519.3 1069.04L530.47 1088.4M519.3 1058.57L530.47 1077.93M520.76 1050.64L530.47 1067.46M526.81 1050.64L530.47 1056.99" stroke="#8c564b" class="h"/><rect x="519.3" y="1050.64" width="11.18" height="95.06" class="bar"/>
<path d="M524.89 1005.17V1096.11M520.89 1005.17H528.89M520.89 1096.11H528.89" class="eb"/>
<rect x="530.47" y="1007.54" width="11.18" height="138.16" fill="#fff"/><path d="M532.19 1007.54L530.47 1010.51M538.24 1007.54L530.47 1020.98M541.65 1012.09L530.47 1031.45M541.65 1022.56L530.47 1041.92M541.65 1033.03L530.47 1052.39M541.65 1043.5L530.47 1062.86M541.65 1053.97L530.47 1073.33M541.65 1064.44L530.47 1083.8M541.65 1074.91L530.47 1094.27M541.65 1085.38L530.47 1104.74M541.65 1095.85L530.47 1115.21M541.65 1106.32L530.47 1125.68M541.65 1116.79L530.47 1136.15M541.65 1127.26L531.01 1145.7M541.65 1137.73L537.05 1145.7" stroke="#e377c2" class="h"/><rect x="530.47" y="1007.54" width="11.18" height="138.16" class="bar"/>
<rect x="541.65" y="1002.79" width="11.18" height="142.91" fill="#fff"/><rect x="541.65" y="1002.79" width="11.18" height="142.91" class="bar"/>
<rect x="552.83" y="1036.38" width="11.18" height="109.32" fill="#fff"/><path d="M564.01 1037.36L552.83 1048.54M564.01 1052.16L552.83 1063.34M564.01 1066.97L552.83 1078.15M564.01 1081.78L552.83 1092.96M564.01 1096.59L552.83 1107.76M564.01 1111.39L552.83 1122.57M564.01 1126.2L552.83 1137.38M564.01 1141.01L559.32 1145.7M552.83 1133.54L564.01 1144.72M552.83 1118.73L564.01 1129.91M552.83 1103.93L564.01 1115.11M552.83 1089.12L564.01 1100.3M552.83 1074.31L564.01 1085.49M552.83 1059.51L564.01 1070.69M552.83 1044.7L564.01 1055.88M559.32 1036.38L564.01 1041.07" stroke="#bcbd22" class="h"/><rect x="552.83" y="1036.38" width="11.18" height="109.32" class="bar"/>
<rect x="564.01" y="1061.41" width="11.18" height="84.29" fill="#fff"/><path d="M566.43 1061.41L564.01 1063.83M573.83 1061.41L564.01 1071.23M575.19 1067.46L564.01 1078.64M575.19 1074.86L564.01 1086.04M575.19 1082.26L564.01 1093.44M575.19 1089.67L564.01 1100.85M575.19 1097.07L564.01 1108.25M575.19 1104.47L564.01 1115.65M575.19 1111.88L564.01 1123.06M575.19 1119.28L564.01 1130.46M575.19 1126.68L564.01 1137.86M575.19 1134.09L564.01 1145.27M575.19 1141.49L570.98 1145.7M564.01 1143.28L566.43 1145.7M564.01 1135.88L573.83 1145.7M564.01 1128.48L575.19 1139.65M564.01 1121.07L575.19 1132.25M564.01 1113.67L575.19 1124.85M564.01 1106.27L575.19 1117.44M564.01 1098.86L575.19 1110.04M564.01 1091.46L575.19 1102.64M564.01 1084.06L575.19 1095.23M564.01 1076.65L575.19 1087.83M564.01 1069.25L575.19 1080.43M564.01 1061.84L575.19 1073.02M570.98 1061.41L575.19 1065.62" stroke="#17becf" class="h"/><rect x="564.01" y="1061.41" width="11.18" height="84.29" class="bar"/>
<rect x="575.19" y="999.62" width="11.18" height="146.08" fill="#fff"/><path d="M575.19 1141.05L579.84 1145.7M575.19 1126.25L586.37 1137.43M575.19 1111.44L586.37 1122.62M575.19 1096.63L586.37 1107.81M575.19 1081.83L586.37 1093M575.19 1067.02L586.37 1078.2M575.19 1052.21L586.37 1063.39M575.19 1037.41L586.37 1048.58M575.19 1022.6L586.37 1033.78M575.19 1007.79L586.37 1018.97M581.83 999.62L586.37 1004.16" stroke="#ff9896" class="h"/><rect x="575.19" y="999.62" width="11.18" height="146.08" class="bar"/>
<rect x="586.37" y="1027.51" width="11.18" height="118.19" fill="#fff"/><path d="M586.37 1143.29L587.76 1145.7M586.37 1132.82L593.8 1145.7M586.37 1122.35L597.55 1141.72M586.37 1111.88L597.55 1131.25M586.37 1101.41L597.55 1120.78M586.37 1090.94L597.55 1110.31M586.37 1080.47L597.55 1099.84M586.37 1070L597.55 1089.37M586.37 1059.53L597.55 1078.9M586.37 1049.06L597.55 1068.43M586.37 1038.59L597.55 1057.96M586.37 1028.12L597.55 1047.49M592.06 1027.51L597.55 1037.02" stroke="#98df8a" class="h"/><rect x="586.37" y="1027.51" width="11.18" height="118.19" class="bar"/>
<text transform="translate(530.47 1188.3) scale(1 1.04)" class="xl">Cu</text>
<line x1="530.47" y1="892.2" x2="530.47" y2="900.2" class="tk"/>
<line x1="530.47" y1="1145.7" x2="530.47" y2="1137.7" class="tk"/>
<text transform="translate(75.6 1156.4) scale(1 1.04)" class="yl">0</text>
<line x1="94.5" y1="1114.01" x2="98.5" y2="1114.01" class="tk"/>
<line x1="675.8" y1="1114.01" x2="671.8" y2="1114.01" class="tk"/>
<line x1="94.5" y1="1082.33" x2="102.5" y2="1082.33" class="tk"/>
<line x1="675.8" y1="1082.33" x2="667.8" y2="1082.33" class="tk"/>
<text transform="translate(75.6 1093.03) scale(1 1.04)" class="yl">2</text>
<line x1="94.5" y1="1050.64" x2="98.5" y2="1050.64" class="tk"/>
<line x1="675.8" y1="1050.64" x2="671.8" y2="1050.64" class="tk"/>
<line x1="94.5" y1="1018.95" x2="102.5" y2="1018.95" class="tk"/>
<line x1="675.8" y1="1018.95" x2="667.8" y2="1018.95" class="tk"/>
<text transform="translate(75.6 1029.65) scale(1 1.04)" class="yl">4</text>
<line x1="94.5" y1="987.26" x2="98.5" y2="987.26" class="tk"/>
<line x1="675.8" y1="987.26" x2="671.8" y2="987.26" class="tk"/>
<line x1="94.5" y1="955.58" x2="102.5" y2="955.58" class="tk"/>
<line x1="675.8" y1="955.58" x2="667.8" y2="955.58" class="tk"/>
<text transform="translate(75.6 966.28) scale(1 1.04)" class="yl">6</text>
<line x1="94.5" y1="923.89" x2="98.5" y2="923.89" class="tk"/>
<line x1="675.8" y1="923.89" x2="671.8" y2="923.89" class="tk"/>
<text transform="translate(75.6 902.9) scale(1 1.04)" class="yl">8</text>
<rect x="94.5" y="892.2" width="581.3" height="253.5" class="frame"/>
<text transform="translate(13.2 1020.05) rotate(-90)" class="yt">Viscosity Coefficient μ (mPas)</text>
<rect x="85.5" y="822.1" width="599.1" height="47.1" fill="#fff" stroke="#444" stroke-width="1"/>
<rect x="179.7" y="826.4" width="46.2" height="7.9" fill="#fff"/><path d="M188.41 826.4L180.51 834.3M203.22 826.4L195.32 834.3M218.03 826.4L210.13 834.3M225.9 833.33L224.93 834.3M180.51 826.4L188.41 834.3M195.32 826.4L203.22 834.3M210.13 826.4L218.03 834.3M224.93 826.4L225.9 827.37" stroke="#1f77b4" class="h"/><rect x="179.7" y="826.4" width="46.2" height="7.9" class="sw"/>
<text x="170.2" y="835.7" class="lg">IU</text>
<rect x="179.7" y="841.95" width="46.2" height="7.9" fill="#fff"/><path d="M181.01 841.95L179.7 843.26M188.41 841.95L180.51 849.85M195.82 841.95L187.92 849.85M203.22 841.95L195.32 849.85M210.62 841.95L202.72 849.85M218.03 841.95L210.13 849.85M225.43 841.95L217.53 849.85M225.9 848.88L224.93 849.85M179.7 848.54L181.01 849.85M180.51 841.95L188.41 849.85M187.92 841.95L195.82 849.85M195.32 841.95L203.22 849.85M202.72 841.95L210.62 849.85M210.13 841.95L218.03 849.85M217.53 841.95L225.43 849.85M224.93 841.95L225.9 842.92" stroke="#ff7f0e" class="h"/><rect x="179.7" y="841.95" width="46.2" height="7.9" class="sw"/>
<text x="170.2" y="851.25" class="lg">VS</text>
<rect x="179.7" y="857.5" width="46.2" height="7.9" fill="#2ca02c"/><rect x="179.7" y="857.5" width="46.2" height="7.9" class="sw"/>
<text x="170.2" y="866.8" class="lg">TY</text>
<rect x="329.4" y="826.4" width="46.2" height="7.9" fill="#fff"/><path d="M330.21 826.4L338.11 834.3M345.02 826.4L352.92 834.3M359.83 826.4L367.73 834.3M374.63 826.4L375.6 827.37" stroke="#d62728" class="h"/><rect x="329.4" y="826.4" width="46.2" height="7.9" class="sw"/>
<text x="319.9" y="835.7" class="lg">SR</text>
<rect x="329.4" y="841.95" width="46.2" height="7.9" fill="#fff"/><path d="M338.11 841.95L330.21 849.85M352.92 841.95L345.02 849.85M367.73 841.95L359.83 849.85M375.6 848.88L374.63 849.85" stroke="#9467bd" class="h"/><rect x="329.4" y="841.95" width="46.2" height="7.9" class="sw"/>
<text x="319.9" y="851.25" class="lg">FR</text>
<rect x="329.4" y="857.5" width="46.2" height="7.9" fill="#fff"/><path d="M329.4 857.84L333.76 865.4M335.25 857.5L339.81 865.4M341.29 857.5L345.85 865.4M347.34 857.5L351.9 865.4M353.38 857.5L357.94 865.4M359.43 857.5L363.99 865.4M365.47 857.5L370.03 865.4M371.52 857.5L375.6 864.57" stroke="#8c564b" class="h"/><rect x="329.4" y="857.5" width="46.2" height="7.9" class="sw"/>
<text x="319.9" y="866.8" class="lg">EAM</text>
<rect x="479.2" y="826.4" width="46.2" height="7.9" fill="#fff"/><path d="M483.56 826.4L479.2 833.96M489.61 826.4L485.05 834.3M495.65 826.4L491.09 834.3M501.7 826.4L497.14 834.3M507.74 826.4L503.18 834.3M513.79 826.4L509.23 834.3M519.83 826.4L515.27 834.3M525.4 827.23L521.32 834.3" stroke="#e377c2" class="h"/><rect x="479.2" y="826.4" width="46.2" height="7.9" class="sw"/>
<text x="469.7" y="835.7" class="lg">EXP [11]</text>
<rect x="479.2" y="841.95" width="46.2" height="7.9" fill="#fff"/><rect x="479.2" y="841.95" width="46.2" height="7.9" class="sw"/>
<text x="469.7" y="851.25" class="lg">EXP [84]</text>
<rect x="479.2" y="857.5" width="46.2" height="7.9" fill="#fff"/><path d="M487.91 857.5L480.01 865.4M502.72 857.5L494.82 865.4M517.53 857.5L509.63 865.4M525.4 864.43L524.43 865.4M480.01 857.5L487.91 865.4M494.82 857.5L502.72 865.4M509.63 857.5L517.53 865.4M524.43 857.5L525.4 858.47" stroke="#bcbd22" class="h"/><rect x="479.2" y="857.5" width="46.2" height="7.9" class="sw"/>
<text x="469.7" y="866.8" class="lg">Theo [85]</text>
<rect x="629.1" y="826.4" width="46.2" height="7.9" fill="#fff"/><path d="M630.41 826.4L629.1 827.71M637.81 826.4L629.91 834.3M645.22 826.4L637.32 834.3M652.62 826.4L644.72 834.3M660.02 826.4L652.12 834.3M667.43 826.4L659.53 834.3M674.83 826.4L666.93 834.3M675.3 833.33L674.33 834.3M629.1 832.99L630.41 834.3M629.91 826.4L637.81 834.3M637.32 826.4L645.22 834.3M644.72 826.4L652.62 834.3M652.12 826.4L660.02 834.3M659.53 826.4L667.43 834.3M666.93 826.4L674.83 834.3M674.33 826.4L675.3 827.37" stroke="#17becf" class="h"/><rect x="629.1" y="826.4" width="46.2" height="7.9" class="sw"/>
<text x="619.6" y="835.7" class="lg">Theo [86]</text>
<rect x="629.1" y="841.95" width="46.2" height="7.9" fill="#fff"/><path d="M629.91 841.95L637.81 849.85M644.72 841.95L652.62 849.85M659.53 841.95L667.43 849.85M674.33 841.95L675.3 842.92" stroke="#ff9896" class="h"/><rect x="629.1" y="841.95" width="46.2" height="7.9" class="sw"/>
<text x="619.6" y="851.25" class="lg">Theo [8]</text>
<rect x="629.1" y="857.5" width="46.2" height="7.9" fill="#fff"/><path d="M629.1 857.84L633.46 865.4M634.95 857.5L639.51 865.4M640.99 857.5L645.55 865.4M647.04 857.5L651.6 865.4M653.08 857.5L657.64 865.4M659.13 857.5L663.69 865.4M665.17 857.5L669.73 865.4M671.22 857.5L675.3 864.57" stroke="#98df8a" class="h"/><rect x="629.1" y="857.5" width="46.2" height="7.9" class="sw"/>
<text x="619.6" y="866.8" class="lg">Theo [44]</text>
</svg></body></html>
